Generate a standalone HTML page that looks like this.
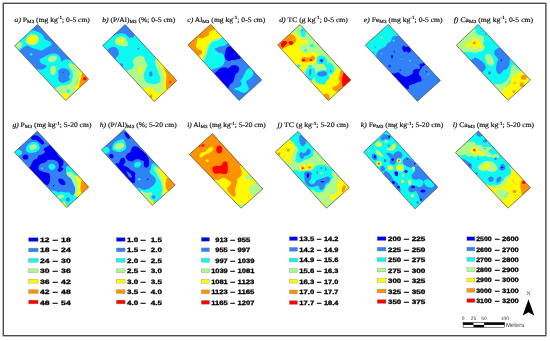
<!DOCTYPE html>
<html><head><meta charset="utf-8"><title>Figure</title>
<style>html,body{margin:0;padding:0;background:#fff}svg{display:block}text{font-family:"Liberation Serif",serif;text-rendering:geometricPrecision}.s{font-family:"Liberation Sans",sans-serif}</style></head><body>
<svg width="550" height="341" viewBox="0 0 550 341">
<defs><filter id="bl" x="-5%" y="-5%" width="110%" height="110%"><feGaussianBlur stdDeviation="0.55"/></filter></defs>
<rect width="550" height="341" fill="#fff"/>
<rect x="3.3" y="3.3" width="542.6" height="332.4" fill="none" stroke="#4c4c4c" stroke-width="1.4"/>
<clipPath id="c0"><polygon points="37.6,24.4 88.6,79.2 65.7,100.6 14.7,45.8"/></clipPath>
<g clip-path="url(#c0)"><g filter="url(#bl)"><polygon points="37.6,24.4 88.6,79.2 65.7,100.6 14.7,45.8" fill="#3381f7" stroke="#3381f7" stroke-width="3"/>
<path fill="#0cf8f0" d="M14.6 45.5C16.2 43.3 22.3 37.7 25.2 35.2C28.1 32.7 29.6 31.2 31.8 30.7C34.0 30.2 36.5 31.5 38.4 32.3C40.3 33.0 41.9 34.0 43.0 35.2C44.1 36.3 43.8 38.1 45.0 39.2C46.2 40.2 49.2 40.9 50.3 41.8C51.4 42.7 52.2 43.7 51.6 44.7C50.9 45.7 47.9 46.8 46.3 47.7C44.7 48.7 43.4 50.1 41.7 50.4C39.9 50.6 37.4 49.5 35.7 49.0C34.1 48.6 33.1 48.3 31.8 47.7C30.5 47.2 29.2 45.9 27.8 45.7C26.5 45.6 25.2 46.3 23.9 47.1C22.6 47.8 21.2 50.1 19.9 50.4C18.6 50.6 16.8 49.2 16.0 48.4C15.1 47.6 13.1 47.7 14.6 45.5Z"/>
<path fill="#aefa8c" d="M25.9 40.5C26.1 39.3 26.6 37.0 27.8 35.9C29.0 34.8 31.5 33.9 33.1 33.9C34.8 33.9 36.7 34.8 37.7 35.9C38.7 37.0 39.4 39.0 39.0 40.5C38.7 41.9 37.2 43.7 35.7 44.4C34.3 45.2 32.0 45.3 30.5 45.1C28.9 44.9 27.3 43.9 26.5 43.1C25.7 42.3 25.6 41.7 25.9 40.5Z"/>
<path fill="#fffa00" d="M27.2 40.5C27.1 39.3 28.2 37.7 29.2 36.8C30.1 35.9 31.8 35.2 33.1 35.2C34.4 35.2 36.1 35.9 36.8 36.8C37.5 37.7 37.7 39.4 37.3 40.5C36.9 41.5 35.7 42.6 34.4 43.1C33.2 43.7 31.0 44.2 29.8 43.8C28.6 43.3 27.3 41.6 27.2 40.5Z"/>
<path fill="#aefa8c" d="M14.0 45.5C14.5 44.4 17.9 42.1 19.3 41.8C20.6 41.5 21.9 42.9 22.3 43.8C22.7 44.6 22.5 46.2 21.9 47.1C21.3 47.9 19.6 48.8 18.6 49.0C17.6 49.3 16.7 49.0 16.0 48.4C15.2 47.8 13.4 46.6 14.0 45.5Z"/>
<ellipse fill="#0cf8f0" cx="31.1" cy="54.3" rx="1.3" ry="1.3"/>
<path fill="#0cf8f0" d="M37.8 71.4C35.6 67.5 40.6 70.0 41.8 69.4C43.0 68.9 44.3 68.7 45.1 68.1C45.9 67.4 46.6 66.0 46.4 65.4C46.2 64.9 44.8 65.2 43.8 64.8C42.8 64.3 41.1 63.7 40.5 62.8C39.8 61.9 39.4 60.4 39.8 59.5C40.2 58.6 41.8 58.3 43.1 57.5C44.4 56.8 46.1 55.6 47.7 54.9C49.4 54.2 51.4 53.7 53.0 53.6C54.7 53.5 56.4 53.6 57.6 54.2C58.8 54.9 59.6 56.3 60.3 57.5C60.9 58.7 60.8 61.2 61.6 61.5C62.3 61.8 63.8 59.8 64.9 59.5C66.0 59.2 66.5 59.3 68.2 59.8C69.8 60.2 71.9 60.2 74.8 62.2C77.6 64.1 83.6 66.3 85.3 71.4C87.1 76.4 90.4 89.0 85.3 92.5C80.3 96.0 62.9 96.0 55.0 92.5C47.1 89.0 40.0 75.2 37.8 71.4Z"/>
<path fill="#aefa8c" d="M47.7 58.9C47.9 58.0 49.3 56.8 50.4 56.2C51.5 55.7 53.2 55.3 54.3 55.6C55.4 55.8 56.7 56.7 57.0 57.5C57.2 58.4 56.4 60.1 55.6 60.8C54.9 61.6 53.4 62.0 52.3 62.2C51.2 62.3 49.8 62.0 49.0 61.5C48.3 60.9 47.5 59.7 47.7 58.9Z"/>
<path fill="#aefa8c" d="M50.4 68.7C50.6 67.5 51.6 66.5 52.3 66.1C53.1 65.7 54.4 65.6 55.0 66.1C55.6 66.7 56.0 68.2 56.0 69.4C56.0 70.6 55.5 72.4 55.0 73.4C54.5 74.4 53.7 75.3 53.0 75.3C52.3 75.3 51.2 74.5 50.8 73.4C50.3 72.3 50.1 70.0 50.4 68.7Z"/>
<ellipse fill="#fffa00" cx="53.3" cy="70.7" rx="0.9" ry="2.4"/>
<path fill="#aefa8c" d="M68.7 62.9C69.5 62.5 73.1 64.0 74.6 65.2C76.1 66.4 77.1 68.5 77.9 70.2C78.7 71.9 79.7 73.5 79.5 75.5C79.3 77.4 77.2 80.1 76.6 82.1C75.9 84.0 74.9 85.8 75.5 87.3C76.2 88.9 82.1 88.9 80.5 91.3C79.0 93.7 70.6 102.2 66.0 101.9C61.4 101.5 54.4 91.7 52.8 89.3C51.3 86.9 55.5 88.3 56.8 87.6C58.1 86.9 59.3 85.8 60.7 85.4C62.2 84.9 63.8 85.3 65.4 85.0C66.9 84.6 68.8 84.5 70.0 83.4C71.2 82.2 72.2 80.1 72.6 78.1C73.0 76.1 72.9 73.3 72.4 71.5C71.8 69.8 69.9 69.0 69.3 67.6C68.7 66.1 67.8 63.3 68.7 62.9Z"/>
<ellipse fill="#0cf8f0" cx="68.3" cy="91.0" rx="1.3" ry="1.7"/>
<path fill="#3381f7" d="M58.1 71.5C58.3 70.4 59.0 69.4 60.1 68.9C61.2 68.3 63.3 68.0 64.7 68.2C66.1 68.4 67.8 69.2 68.7 70.2C69.5 71.2 70.0 73.1 70.0 74.2C70.0 75.2 68.7 75.9 68.7 76.8C68.7 77.7 70.3 78.7 70.0 79.4C69.7 80.2 67.8 80.9 66.7 81.4C65.6 82.0 64.5 82.6 63.4 82.7C62.3 82.8 61.0 82.7 60.1 82.1C59.2 81.4 58.3 79.9 58.1 78.8C57.9 77.7 58.8 76.7 58.8 75.5C58.8 74.3 57.9 72.6 58.1 71.5Z"/>
<ellipse fill="#0000f2" cx="63.0" cy="72.2" rx="0.5" ry="0.5"/>
<path fill="#fffa00" d="M74.6 63.9C74.4 64.5 77.4 68.1 78.2 70.2C78.9 72.2 79.4 74.0 79.2 76.1C79.1 78.2 78.0 80.7 77.2 82.7C76.5 84.8 74.2 86.9 74.7 88.4C75.3 89.9 77.7 93.5 80.5 92.0C83.4 90.5 92.0 83.7 91.7 79.4C91.5 75.1 82.1 68.8 79.2 66.2C76.4 63.6 74.8 63.2 74.6 63.9Z"/>
<path fill="#fffa00" d="M61.4 95.3C61.6 94.4 62.6 93.3 63.4 92.9C64.2 92.5 65.4 92.4 66.3 92.9C67.2 93.4 68.8 94.5 68.7 95.9C68.6 97.3 66.9 100.9 65.8 101.2C64.7 101.5 62.8 98.9 62.1 97.9C61.3 96.9 61.2 96.1 61.4 95.3Z"/>
<path fill="#ff9200" d="M82.5 73.5C83.9 73.8 90.1 77.1 89.8 79.4C89.4 81.8 82.3 87.1 80.5 87.6C78.8 88.2 79.4 84.4 79.5 82.7C79.6 81.0 80.7 79.0 81.2 77.4C81.7 75.9 81.1 73.2 82.5 73.5Z"/>
<ellipse fill="#ff0000" cx="84.8" cy="78.8" rx="1.8" ry="1.8"/></g></g>
<polygon points="37.6,24.4 88.6,79.2 65.7,100.6 14.7,45.8" fill="none" stroke="#4a4a3c" stroke-width="0.7"/>
<clipPath id="c1"><polygon points="125.2,24.6 176.7,80.6 154.2,101.5 102.7,45.5"/></clipPath>
<g clip-path="url(#c1)"><g filter="url(#bl)"><polygon points="125.2,24.6 176.7,80.6 154.2,101.5 102.7,45.5" fill="#0cf8f0" stroke="#0cf8f0" stroke-width="3"/>
<path fill="#3381f7" d="M125.4 22.0C130.0 21.9 135.7 32.3 137.3 34.5C138.8 36.7 135.7 34.7 134.9 35.2C134.1 35.7 133.7 37.2 132.6 37.6C131.6 37.9 129.8 37.7 128.7 37.2C127.6 36.7 127.1 35.2 126.0 34.5C124.9 33.9 123.5 33.3 122.1 33.2C120.7 33.1 119.1 33.6 117.5 34.1C115.8 34.6 113.5 36.1 112.2 36.2C110.9 36.4 107.4 37.6 109.6 35.2C111.8 32.8 120.8 22.1 125.4 22.0Z"/>
<path fill="#aefa8c" d="M114.8 41.8C114.9 40.7 115.8 38.8 116.8 37.8C117.8 36.9 119.4 36.3 120.8 36.2C122.1 36.2 123.6 36.6 124.7 37.6C125.8 38.5 126.8 40.5 127.4 41.8C127.9 43.0 128.5 44.3 128.0 45.1C127.6 45.9 126.0 46.3 124.7 46.4C123.4 46.5 121.5 46.1 120.1 45.7C118.7 45.4 117.0 45.1 116.2 44.4C115.3 43.8 114.7 42.9 114.8 41.8Z"/>
<ellipse fill="#fffa00" cx="120.8" cy="40.9" rx="2.9" ry="2.2"/>
<path fill="#3381f7" d="M106.9 51.7C107.0 50.3 108.9 48.5 110.2 47.7C111.5 47.0 113.5 46.7 114.8 47.1C116.2 47.4 117.5 48.8 118.1 50.0C118.8 51.2 119.1 53.1 118.8 54.3C118.5 55.6 116.9 56.5 116.2 57.4C115.4 58.2 115.7 59.8 114.6 59.6C113.5 59.4 110.8 57.6 109.6 56.3C108.3 55.0 106.8 53.1 106.9 51.7Z"/>
<ellipse fill="#3381f7" cx="121.2" cy="65.3" rx="2.0" ry="2.0"/>
<ellipse fill="#3381f7" cx="138.3" cy="48.8" rx="1.1" ry="0.8"/>
<path fill="#aefa8c" d="M132.6 61.6C132.8 60.4 134.0 58.6 135.2 57.7C136.4 56.7 138.4 55.8 139.8 55.7C141.3 55.6 142.8 56.0 143.8 57.0C144.8 58.0 145.0 60.2 145.8 61.6C146.5 63.0 146.9 65.7 148.4 65.6C149.9 65.5 153.8 62.6 155.0 61.0C156.2 59.3 154.2 55.7 155.7 55.7C157.1 55.7 159.6 56.8 163.6 61.0C167.5 65.1 181.1 73.6 179.4 80.5C177.8 87.4 162.3 103.6 153.7 102.5C145.1 101.5 131.6 79.7 128.0 74.2C124.3 68.6 130.9 70.7 131.9 69.1C132.9 67.6 133.8 66.2 133.9 64.9C134.0 63.7 132.4 62.8 132.6 61.6Z"/>
<path fill="#aefa8c" d="M153.1 64.2C153.6 63.2 155.7 61.4 157.0 60.9C158.4 60.5 160.3 60.6 161.0 61.6C161.7 62.6 162.2 66.1 161.0 67.0C159.8 67.9 155.1 67.4 153.7 67.0C152.4 66.5 152.5 65.2 153.1 64.2Z"/>
<path fill="#0cf8f0" d="M143.8 74.2C144.0 72.5 145.1 71.0 145.8 69.5C146.4 68.1 147.3 67.0 147.7 65.6C148.2 64.1 148.7 62.5 148.4 61.0C148.1 59.4 145.0 57.1 146.2 56.3C147.4 55.6 154.2 55.4 155.7 56.3C157.1 57.3 154.8 60.2 155.0 62.3C155.2 64.4 156.3 66.9 157.0 68.9C157.6 70.9 158.4 72.5 159.0 74.2C159.5 75.8 160.3 77.3 160.3 78.8C160.3 80.2 160.1 81.8 159.0 82.7C157.9 83.6 155.6 84.0 153.7 84.0C151.8 84.0 149.3 83.5 147.7 82.7C146.2 82.0 145.1 80.9 144.4 79.4C143.8 78.0 143.6 75.8 143.8 74.2Z"/>
<ellipse fill="#3381f7" cx="150.8" cy="73.9" rx="1.7" ry="2.6"/>
<path fill="#fffa00" d="M139.6 66.9C140.0 66.2 141.0 66.1 141.4 66.5C141.8 66.9 142.0 68.3 141.9 69.5C141.9 70.8 141.3 73.3 140.9 74.2C140.4 75.0 139.5 75.4 139.2 74.8C138.8 74.3 138.7 72.2 138.8 70.9C138.8 69.5 139.1 67.6 139.6 66.9Z"/>
<path fill="#fffa00" d="M156.3 59.0C153.0 56.4 158.6 63.2 159.6 64.9C160.6 66.7 161.6 68.0 162.3 69.5C162.9 71.1 163.2 72.5 163.6 74.2C163.9 75.8 164.3 77.9 164.2 79.4C164.1 81.0 163.4 82.4 162.9 83.4C162.5 84.4 162.5 84.6 161.6 85.4C160.7 86.1 158.6 86.8 157.6 88.0C156.7 89.2 156.3 92.4 155.7 92.6C155.0 92.8 154.5 90.1 153.7 89.3C152.9 88.6 152.1 88.2 151.0 88.0C149.9 87.8 148.5 87.6 147.1 88.0C145.7 88.4 141.4 87.8 142.5 90.2C143.6 92.7 147.5 104.1 153.7 102.5C159.8 100.9 179.0 87.7 179.4 80.5C179.8 73.2 159.6 61.6 156.3 59.0Z"/>
<path fill="#aefa8c" d="M157.6 88.4C158.2 87.1 160.6 85.4 161.6 85.4C162.6 85.3 163.6 86.8 163.6 88.0C163.5 89.2 162.1 91.5 161.2 92.4C160.3 93.2 158.6 93.9 158.0 93.3C157.4 92.6 157.0 89.7 157.6 88.4Z"/>
<path fill="#ff9200" d="M163.6 68.2C165.8 69.8 177.4 77.0 178.1 80.5C178.7 84.0 169.6 88.6 167.5 89.3C165.5 90.0 166.2 86.4 166.0 84.7C165.7 83.1 166.1 81.2 166.2 79.4C166.3 77.7 166.7 75.6 166.5 74.2C166.3 72.7 165.4 71.8 164.9 70.9C164.4 69.9 161.4 66.6 163.6 68.2Z"/>
<ellipse fill="#ff0000" cx="170.2" cy="82.1" rx="0.9" ry="0.9"/>
<ellipse fill="#ff9200" cx="151.0" cy="96.1" rx="1.3" ry="1.8"/></g></g>
<polygon points="125.2,24.6 176.7,80.6 154.2,101.5 102.7,45.5" fill="none" stroke="#4a4a3c" stroke-width="0.7"/>
<clipPath id="c2"><polygon points="210.7,24.4 261.7,80.1 239.0,100.5 188.0,44.8"/></clipPath>
<g clip-path="url(#c2)"><g filter="url(#bl)"><polygon points="210.7,24.4 261.7,80.1 239.0,100.5 188.0,44.8" fill="#0cf8f0" stroke="#0cf8f0" stroke-width="3"/>
<path fill="#3381f7" d="M229.9 41.8C223.3 35.7 228.1 43.1 227.2 43.8C226.3 44.4 225.8 45.3 224.6 45.7C223.4 46.2 221.2 46.1 220.0 46.4C218.8 46.7 218.2 47.3 217.3 47.7C216.4 48.1 214.6 48.0 214.7 48.8C214.8 49.6 216.7 51.5 218.0 52.3C219.3 53.2 221.5 52.8 222.6 53.7C223.7 54.5 224.2 56.3 224.6 57.6C224.9 58.9 224.9 60.3 224.6 61.6C224.2 62.9 223.6 64.5 222.6 65.5C221.6 66.5 220.0 67.0 218.6 67.5C217.3 68.1 216.1 68.2 214.7 68.8C213.3 69.5 210.6 70.0 210.1 71.5C209.5 72.9 206.3 72.0 211.4 77.4C216.4 82.8 231.2 103.4 240.4 103.8C249.6 104.2 268.6 90.4 266.8 80.0C265.0 69.7 236.5 47.8 229.9 41.8Z"/>
<path fill="#aefa8c" d="M223.3 35.2C224.5 36.0 220.3 38.7 218.6 39.8C217.0 40.9 214.7 41.1 213.4 41.8C212.0 42.4 211.5 42.8 210.7 43.8C210.0 44.8 209.3 46.4 208.7 47.7C208.2 49.0 207.9 50.4 207.4 51.7C207.0 53.0 206.7 54.2 206.1 55.6C205.6 57.1 205.4 60.4 204.1 60.3C202.8 60.1 197.0 59.2 198.2 55.0C199.4 50.8 207.2 38.5 211.4 35.2C215.6 31.9 222.0 34.4 223.3 35.2Z"/>
<path fill="#fffa00" d="M214.7 27.3C216.7 29.6 222.0 34.1 222.6 35.9C223.1 37.6 219.2 37.3 218.0 37.8C216.8 38.4 216.4 38.7 215.3 39.2C214.2 39.6 212.4 39.9 211.4 40.5C210.4 41.0 210.1 41.6 209.4 42.4C208.7 43.3 208.0 44.5 207.4 45.7C206.9 47.0 206.5 48.4 206.1 49.7C205.7 51.0 205.2 52.6 204.8 53.7C204.3 54.8 204.0 55.4 203.5 56.3C203.0 57.2 203.1 59.5 201.9 59.2C200.7 58.9 199.0 56.7 196.2 54.3C193.4 52.0 182.6 50.5 185.0 45.1C187.4 39.7 205.8 25.0 210.7 22.0C215.7 19.0 212.7 25.0 214.7 27.3Z"/>
<path fill="#ff9200" d="M210.7 22.7C215.5 19.9 214.9 27.0 215.1 28.3C215.3 29.7 213.0 30.0 212.0 30.6C211.1 31.2 210.0 31.1 209.4 31.9C208.9 32.7 209.5 34.3 208.7 35.2C208.0 36.1 205.9 36.6 204.8 37.2C203.7 37.7 203.2 38.4 202.2 38.5C201.1 38.6 199.1 37.3 198.2 37.8C197.3 38.4 197.2 40.4 196.9 41.8C196.5 43.2 196.0 45.2 196.2 46.4C196.4 47.6 197.3 48.4 198.2 49.0C199.1 49.7 200.8 49.7 201.5 50.4C202.2 51.0 202.4 52.2 202.2 53.0C201.9 53.8 200.5 54.9 199.8 55.2C199.0 55.6 199.8 56.7 197.5 55.0C195.3 53.3 184.1 50.5 186.3 45.1C188.5 39.7 205.9 25.5 210.7 22.7Z"/>
<ellipse fill="#aefa8c" cx="216.0" cy="53.7" rx="0.7" ry="0.7"/>
<path fill="#0000f2" d="M225.9 49.7C226.3 48.8 226.8 47.5 227.9 47.1C229.0 46.6 230.8 45.7 232.5 46.8C234.1 47.9 236.3 51.9 237.8 53.7C239.2 55.4 241.1 56.4 241.1 57.4C241.1 58.3 239.2 58.9 237.8 59.2C236.3 59.5 233.8 58.7 232.5 58.9C231.2 59.2 230.8 60.7 229.9 60.9C228.9 61.1 227.4 61.0 226.6 60.3C225.7 59.5 224.8 57.6 224.6 56.3C224.4 55.0 225.0 53.4 225.2 52.3C225.5 51.2 225.5 50.6 225.9 49.7Z"/>
<path fill="#0000f2" d="M225.8 55.7C227.7 55.2 236.6 55.1 238.4 55.7C240.1 56.3 237.6 58.7 236.4 59.4C235.2 60.1 232.6 60.0 231.1 59.9C229.6 59.8 228.0 59.3 227.2 58.6C226.3 57.9 224.0 56.2 225.8 55.7Z"/>
<path fill="#0000f2" d="M215.3 72.8C216.4 72.1 217.7 69.8 219.2 68.9C220.8 68.0 223.0 67.7 224.5 67.6C226.1 67.4 227.3 68.5 228.5 68.2C229.7 67.9 230.4 66.0 231.8 65.6C233.1 65.1 235.2 65.1 236.4 65.6C237.6 66.0 238.7 67.2 239.0 68.2C239.4 69.2 238.9 70.5 238.4 71.5C237.8 72.5 236.4 73.1 235.7 74.2C235.1 75.2 234.8 76.8 234.4 78.1C234.0 79.4 233.9 81.0 233.1 82.1C232.3 83.2 230.6 83.7 229.8 84.7C229.0 85.7 228.5 86.9 228.5 88.0C228.5 89.1 232.4 93.7 229.8 91.3C227.2 88.9 215.1 76.6 212.6 73.5C210.2 70.4 214.2 73.6 215.3 72.8Z"/>
<path fill="#0cf8f0" d="M246.3 70.2C247.2 69.2 248.5 68.0 249.6 68.2C250.7 68.4 252.3 70.3 252.9 71.5C253.4 72.7 253.4 74.3 252.9 75.5C252.3 76.7 250.7 77.8 249.6 78.8C248.5 79.8 246.6 80.3 246.3 81.4C245.9 82.5 247.2 84.2 247.6 85.4C248.0 86.6 249.1 87.6 248.9 88.7C248.7 89.8 247.4 91.3 246.3 92.0C245.2 92.6 243.6 92.8 242.3 92.6C241.0 92.4 239.7 91.2 238.4 90.6C237.0 90.1 235.0 89.8 234.4 89.3C233.9 88.9 234.2 88.4 235.1 88.0C235.9 87.6 238.6 87.5 239.7 86.7C240.8 85.9 241.6 84.4 241.7 83.4C241.8 82.4 240.2 81.6 240.3 80.7C240.5 79.9 241.7 79.2 242.3 78.1C243.0 77.0 243.6 75.5 244.3 74.2C245.0 72.8 245.4 71.2 246.3 70.2Z"/>
<ellipse fill="#aefa8c" cx="249.6" cy="73.5" rx="0.5" ry="0.5"/></g></g>
<polygon points="210.7,24.4 261.7,80.1 239.0,100.5 188.0,44.8" fill="none" stroke="#4a4a3c" stroke-width="0.7"/>
<clipPath id="c3"><polygon points="300.1,24.6 350.8,80.1 328.4,100.5 277.7,45.0"/></clipPath>
<g clip-path="url(#c3)"><g filter="url(#bl)"><polygon points="300.1,24.6 350.8,80.1 328.4,100.5 277.7,45.0" fill="#aefa8c" stroke="#aefa8c" stroke-width="3"/>
<path fill="#fffa00" d="M290.8 32.8C294.1 30.9 293.4 33.3 294.8 33.9C296.2 34.5 298.3 35.5 299.4 36.5C300.5 37.6 300.4 39.7 301.4 40.2C302.4 40.8 304.2 39.5 305.3 39.8C306.4 40.1 308.1 41.1 308.0 41.8C307.9 42.4 305.9 43.2 304.7 43.8C303.5 44.3 301.6 44.3 300.7 45.1C299.8 45.9 299.3 47.3 299.4 48.4C299.5 49.5 300.4 50.9 301.4 51.7C302.4 52.5 303.8 52.9 305.3 53.0C306.9 53.1 308.9 52.3 310.6 52.3C312.4 52.3 314.6 52.3 315.9 53.0C317.2 53.7 318.3 55.1 318.5 56.3C318.8 57.5 317.9 59.2 317.2 60.3C316.6 61.4 316.1 62.0 314.6 62.9C313.0 63.8 310.2 64.0 308.0 65.5C305.8 67.1 304.7 72.8 301.4 72.1C298.1 71.5 292.6 66.0 288.2 61.6C283.8 57.1 274.6 50.3 275.0 45.5C275.4 40.7 287.5 34.8 290.8 32.8Z"/>
<ellipse fill="#aefa8c" cx="293.5" cy="55.6" rx="0.7" ry="0.7"/>
<path fill="#0cf8f0" d="M316.8 58.2C317.3 56.9 319.3 55.7 320.7 55.6C322.2 55.4 324.2 56.1 325.3 57.1C326.4 58.1 327.2 60.2 327.3 61.5C327.4 62.8 327.0 64.6 326.0 65.1C325.0 65.5 322.8 64.4 321.4 64.1C320.0 63.8 318.2 64.2 317.4 63.2C316.7 62.2 316.2 59.5 316.8 58.2Z"/>
<path fill="#0cf8f0" d="M325.3 64.8C325.9 63.8 328.6 62.6 330.0 62.8C331.3 63.0 332.6 64.6 333.3 65.8C333.9 67.1 334.2 69.0 333.9 70.3C333.7 71.7 332.7 73.6 331.7 74.0C330.7 74.5 328.9 73.8 328.0 73.0C327.1 72.1 326.8 70.4 326.4 69.0C326.0 67.6 324.7 65.8 325.3 64.8Z"/>
<path fill="#0cf8f0" d="M305.8 71.4C306.4 70.1 307.9 68.0 309.2 67.4C310.6 66.9 312.7 67.3 313.7 68.1C314.8 68.9 315.4 70.6 315.4 72.0C315.5 73.5 315.0 75.5 314.3 76.9C313.5 78.4 312.2 80.3 311.1 80.6C310.0 80.9 308.8 79.6 307.9 78.6C307.0 77.7 306.2 76.3 305.8 75.1C305.5 73.9 305.2 72.7 305.8 71.4Z"/>
<path fill="#0cf8f0" d="M314.8 78.0C314.5 76.3 315.1 74.6 315.8 73.4C316.6 72.2 317.9 71.3 319.4 70.7C320.9 70.2 323.6 69.7 325.1 70.1C326.6 70.4 327.6 71.3 328.2 73.0C328.9 74.6 329.3 78.1 329.0 80.0C328.8 81.8 327.9 83.0 326.7 83.9C325.4 84.8 322.9 85.3 321.4 85.2C319.8 85.1 318.5 84.5 317.4 83.3C316.3 82.0 315.1 79.6 314.8 78.0Z"/>
<path fill="#fffa00" d="M339.6 67.6C336.3 66.1 336.8 70.2 335.6 71.2C334.5 72.3 333.6 72.8 332.7 73.9C331.8 75.0 331.1 76.7 330.1 77.8C329.1 79.0 327.7 79.6 326.8 80.7C325.8 81.8 325.8 83.9 324.4 84.4C323.0 84.9 320.1 84.1 318.5 83.8C316.8 83.4 315.8 82.5 314.5 82.3C313.2 82.2 308.2 79.4 310.6 82.7C312.9 86.1 320.9 103.0 328.4 102.5C335.8 102.1 353.5 85.9 355.4 80.1C357.3 74.3 342.9 69.0 339.6 67.6Z"/>
<path fill="#ff9200" d="M276.3 45.5C276.6 43.7 280.9 40.4 282.9 38.5C284.9 36.6 286.8 35.0 288.2 34.3C289.6 33.5 290.4 33.5 291.5 33.9C292.6 34.2 294.0 35.4 294.8 36.5C295.6 37.6 296.3 39.3 296.1 40.5C295.9 41.7 294.6 42.9 293.5 43.8C292.4 44.6 290.9 45.1 289.5 45.7C288.1 46.4 286.3 47.2 284.9 47.7C283.5 48.3 282.4 49.4 280.9 49.0C279.5 48.7 276.0 47.2 276.3 45.5Z"/>
<path fill="#ff0000" d="M280.9 45.1C280.9 44.1 281.5 42.4 282.3 41.8C283.0 41.1 284.7 40.9 285.6 41.1C286.4 41.3 287.2 42.3 287.1 43.1C287.0 43.9 285.7 45.0 284.9 45.7C284.1 46.5 282.9 47.8 282.3 47.7C281.6 47.6 280.9 46.1 280.9 45.1Z"/>
<path fill="#ff0000" d="M288.9 43.1C288.7 42.4 289.5 41.3 290.2 41.1C290.8 40.9 292.3 41.3 292.8 41.8C293.3 42.2 293.3 43.2 292.9 43.8C292.6 44.3 291.5 45.2 290.8 45.1C290.1 45.0 289.0 43.8 288.9 43.1Z"/>
<path fill="#ff9200" d="M301.4 59.6C301.5 58.8 302.4 57.3 303.4 57.0C304.4 56.6 306.1 57.6 307.3 57.6C308.5 57.6 309.6 57.3 310.6 57.0C311.6 56.6 312.5 55.4 313.3 55.6C314.0 55.9 315.2 57.4 315.2 58.3C315.2 59.2 314.2 60.4 313.3 60.9C312.3 61.5 310.5 61.4 309.3 61.6C308.1 61.8 307.1 62.2 306.0 62.2C304.9 62.2 303.5 62.0 302.7 61.6C301.9 61.1 301.3 60.4 301.4 59.6Z"/>
<ellipse fill="#ff0000" cx="303.5" cy="60.3" rx="1.6" ry="1.3"/>
<ellipse fill="#ff0000" cx="310.9" cy="60.0" rx="1.3" ry="1.1"/>
<path fill="#0cf8f0" d="M300.7 29.9C301.0 29.1 302.0 27.9 302.7 27.9C303.4 27.9 304.6 28.8 305.1 29.9C305.6 31.0 305.7 33.4 305.6 34.5C305.5 35.7 305.0 36.6 304.3 36.8C303.6 37.0 302.0 36.6 301.4 35.9C300.8 35.1 301.0 33.5 300.9 32.6C300.7 31.6 300.4 30.7 300.7 29.9Z"/>
<ellipse fill="#3381f7" cx="302.4" cy="30.2" rx="0.7" ry="0.7"/>
<ellipse fill="#0cf8f0" cx="311.9" cy="45.7" rx="2.0" ry="1.6"/>
<ellipse fill="#0cf8f0" cx="305.6" cy="50.4" rx="1.3" ry="1.1"/>
<ellipse fill="#0cf8f0" cx="321.4" cy="60.3" rx="3.7" ry="3.4"/>
<ellipse fill="#3381f7" cx="321.4" cy="60.5" rx="2.0" ry="2.0"/>
<ellipse fill="#0000f2" cx="321.4" cy="60.7" rx="0.9" ry="0.9"/>
<ellipse fill="#0cf8f0" cx="298.7" cy="65.8" rx="2.0" ry="1.6"/>
<ellipse fill="#0cf8f0" cx="310.0" cy="66.3" rx="1.7" ry="1.3"/>
<ellipse fill="#fffa00" cx="305.6" cy="41.4" rx="1.1" ry="0.7"/>
<ellipse fill="#3381f7" cx="321.6" cy="60.6" rx="1.8" ry="1.8"/>
<ellipse fill="#0000f2" cx="321.6" cy="60.6" rx="1.1" ry="1.1"/>
<path fill="#3381f7" d="M317.2 73.8C317.4 73.1 318.4 72.3 319.7 71.9C320.9 71.5 323.5 71.0 324.7 71.3C325.9 71.5 326.9 72.7 327.1 73.5C327.2 74.2 326.7 75.3 325.7 75.7C324.8 76.2 322.6 76.4 321.4 76.4C320.2 76.4 319.1 76.2 318.4 75.7C317.6 75.3 316.9 74.4 317.2 73.8Z"/>
<path fill="#3381f7" d="M309.9 69.5C310.2 68.9 310.8 68.6 311.0 69.3C311.2 69.9 311.3 72.2 311.1 73.4C310.9 74.5 310.2 76.1 309.9 76.1C309.6 76.1 309.1 74.5 309.1 73.4C309.1 72.3 309.6 70.2 309.9 69.5Z"/>
<ellipse fill="#3381f7" cx="330.9" cy="71.1" rx="0.9" ry="0.9"/>
<ellipse fill="#3381f7" cx="310.3" cy="78.8" rx="0.8" ry="0.8"/>
<ellipse fill="#fffa00" cx="323.0" cy="66.1" rx="1.5" ry="1.5"/>
<path fill="#ff9200" d="M342.0 70.9C339.3 70.1 340.2 74.2 339.6 75.5C339.0 76.8 338.3 77.7 338.3 78.8C338.3 79.9 339.8 81.0 339.6 82.1C339.4 83.2 337.9 84.6 336.9 85.4C335.9 86.1 334.4 86.1 333.6 86.7C332.9 87.2 332.1 88.0 332.3 88.7C332.5 89.3 333.8 90.4 335.0 90.8C336.2 91.1 336.2 92.4 339.6 90.6C343.0 88.9 355.0 83.4 355.4 80.1C355.8 76.8 344.6 71.6 342.0 70.9Z"/>
<path fill="#ff0000" d="M344.2 73.1C345.7 73.9 352.1 77.7 352.1 80.1C352.1 82.5 345.8 86.8 344.2 87.3C342.5 87.9 342.6 84.8 342.2 83.4C341.8 82.0 341.8 80.1 342.0 78.8C342.1 77.4 342.5 76.4 342.9 75.5C343.2 74.5 342.7 72.3 344.2 73.1Z"/>
<path fill="#ff9200" d="M323.5 95.3C323.7 94.5 325.5 93.3 326.4 93.3C327.3 93.3 328.5 94.4 329.0 95.3C329.6 96.1 330.0 97.3 329.8 98.2C329.6 99.0 328.8 100.6 328.0 100.5C327.2 100.4 325.8 98.5 325.1 97.6C324.3 96.8 323.3 96.0 323.5 95.3Z"/></g></g>
<polygon points="300.1,24.6 350.8,80.1 328.4,100.5 277.7,45.0" fill="none" stroke="#4a4a3c" stroke-width="0.7"/>
<clipPath id="c4"><polygon points="388.4,24.4 440.4,80.5 417.3,101.2 365.3,45.1"/></clipPath>
<g clip-path="url(#c4)"><g filter="url(#bl)"><polygon points="388.4,24.4 440.4,80.5 417.3,101.2 365.3,45.1" fill="#3381f7" stroke="#3381f7" stroke-width="3"/>
<path fill="#0cf8f0" d="M388.4 22.7C394.2 20.8 397.7 32.3 398.9 34.5C400.1 36.7 396.6 35.5 395.6 35.9C394.7 36.2 393.7 36.0 393.0 36.5C392.3 37.1 392.1 38.3 391.7 39.2C391.2 40.0 391.0 41.1 390.4 41.8C389.7 42.4 388.5 42.3 387.7 43.1C387.0 43.9 386.7 45.5 385.7 46.4C384.8 47.3 383.0 47.7 381.8 48.4C380.6 49.0 379.4 49.5 378.5 50.4C377.6 51.2 377.1 52.6 376.5 53.7C375.9 54.7 377.0 57.9 374.9 56.6C372.8 55.2 361.7 51.1 364.0 45.5C366.2 39.8 382.6 24.5 388.4 22.7Z"/>
<ellipse fill="#fffa00" cx="381.8" cy="37.6" rx="0.8" ry="1.1"/>
<ellipse fill="#3381f7" cx="375.2" cy="47.1" rx="0.8" ry="0.8"/>
<ellipse fill="#3381f7" cx="373.9" cy="52.6" rx="0.7" ry="0.7"/>
<ellipse fill="#0cf8f0" cx="393.7" cy="40.7" rx="1.1" ry="1.1"/>
<path fill="#0000f2" d="M402.2 47.7C402.2 46.6 402.9 45.6 403.6 45.5C404.2 45.4 405.4 46.9 406.2 47.1C407.0 47.2 407.6 45.9 408.4 46.4C409.3 47.0 411.1 49.3 411.1 50.4C411.1 51.4 409.3 52.5 408.4 52.6C407.6 52.8 406.9 51.4 406.2 51.3C405.4 51.2 404.6 52.7 404.0 52.1C403.3 51.5 402.3 48.8 402.2 47.7Z"/>
<ellipse fill="#0000f2" cx="392.1" cy="56.3" rx="1.1" ry="1.1"/>
<ellipse fill="#0000f2" cx="394.3" cy="51.7" rx="0.7" ry="0.7"/>
<ellipse fill="#0000f2" cx="401.6" cy="58.3" rx="0.7" ry="0.7"/>
<ellipse fill="#0000f2" cx="419.4" cy="57.4" rx="1.1" ry="1.1"/>
<ellipse fill="#0000f2" cx="420.7" cy="64.9" rx="1.3" ry="1.3"/>
<ellipse fill="#0cf8f0" cx="381.8" cy="53.7" rx="0.7" ry="0.7"/>
<ellipse fill="#0cf8f0" cx="410.2" cy="60.7" rx="0.8" ry="0.8"/>
<path fill="#0000f2" d="M424.6 62.3C423.8 62.5 421.5 64.5 420.6 65.6C419.8 66.7 420.1 68.3 419.3 68.9C418.6 69.4 417.0 68.7 416.0 68.9C415.0 69.1 413.9 69.4 413.4 70.2C412.8 71.0 413.4 72.6 412.7 73.5C412.1 74.4 410.6 74.9 409.4 75.5C408.2 76.0 406.8 76.9 405.5 76.8C404.2 76.7 402.7 75.6 401.5 74.8C400.3 74.0 399.3 72.4 398.2 72.2C397.1 72.0 396.0 73.1 394.9 73.5C393.8 73.9 389.6 72.3 391.6 74.8C393.6 77.3 403.8 86.9 406.8 88.7C409.8 90.4 408.3 86.1 409.4 85.4C410.5 84.6 412.0 84.6 413.4 84.0C414.8 83.5 416.6 82.6 418.0 82.1C419.4 81.5 421.1 81.6 421.6 80.7C422.0 79.9 421.1 77.9 420.6 76.8C420.2 75.7 418.8 75.2 418.7 74.2C418.6 73.1 419.4 71.4 420.0 70.2C420.6 69.0 421.5 67.9 422.4 66.9C423.2 65.9 424.9 65.0 425.3 64.3C425.6 63.5 425.4 62.1 424.6 62.3Z"/>
<ellipse fill="#0000f2" cx="389.6" cy="66.2" rx="1.1" ry="1.1"/>
<ellipse fill="#0000f2" cx="392.0" cy="57.7" rx="0.8" ry="0.8"/>
<ellipse fill="#0000f2" cx="400.2" cy="70.2" rx="0.7" ry="0.7"/>
<ellipse fill="#0000f2" cx="426.6" cy="71.8" rx="0.7" ry="0.7"/>
<ellipse fill="#0cf8f0" cx="410.1" cy="60.7" rx="0.9" ry="0.9"/>
<ellipse fill="#0cf8f0" cx="401.5" cy="58.6" rx="0.7" ry="0.7"/>
<ellipse fill="#0cf8f0" cx="428.3" cy="74.2" rx="0.8" ry="0.8"/></g></g>
<polygon points="388.4,24.4 440.4,80.5 417.3,101.2 365.3,45.1" fill="none" stroke="#4a4a3c" stroke-width="0.7"/>
<clipPath id="c5"><polygon points="478.1,24.4 530.4,80.1 508.0,100.3 456.4,45.3"/></clipPath>
<g clip-path="url(#c5)"><g filter="url(#bl)"><polygon points="478.1,24.4 530.4,80.1 508.0,100.3 456.4,45.3" fill="#0cf8f0" stroke="#0cf8f0" stroke-width="3"/>
<path fill="#aefa8c" d="M454.6 45.5C456.5 41.8 469.5 31.3 473.1 29.3C476.7 27.2 475.3 32.2 476.4 33.2C477.5 34.2 478.5 34.6 479.7 35.2C480.9 35.7 482.9 35.6 483.7 36.5C484.4 37.4 484.4 39.3 484.3 40.5C484.2 41.7 482.9 42.7 483.0 43.8C483.1 44.9 485.0 46.0 485.0 47.1C485.0 48.2 483.9 49.6 483.0 50.4C482.1 51.1 480.9 51.2 479.7 51.7C478.5 52.1 477.1 52.9 475.7 53.0C474.4 53.1 473.1 52.5 471.8 52.3C470.5 52.2 469.0 52.5 467.8 52.3C466.6 52.2 465.5 51.9 464.5 51.7C463.5 51.5 463.5 52.3 461.9 51.3C460.2 50.3 452.8 49.2 454.6 45.5Z"/>
<path fill="#fffa00" d="M464.9 44.2C465.1 43.5 466.2 42.7 467.2 42.4C468.1 42.2 469.7 43.2 470.5 42.8C471.3 42.5 471.4 41.2 472.1 40.5C472.7 39.7 473.2 38.8 474.2 38.5C475.1 38.2 476.8 38.3 477.7 38.9C478.6 39.4 479.1 40.8 479.7 41.8C480.3 42.8 480.7 43.9 481.3 44.7C481.9 45.5 483.1 46.0 483.1 46.5C483.1 47.1 482.1 48.0 481.3 48.1C480.5 48.2 479.1 46.8 478.4 47.1C477.6 47.3 477.5 49.2 476.8 49.4C476.1 49.7 474.9 49.4 474.2 48.8C473.4 48.2 473.3 46.0 472.4 45.7C471.6 45.5 470.2 47.2 469.2 47.3C468.1 47.4 467.0 46.9 466.2 46.4C465.5 45.9 464.8 44.8 464.9 44.2Z"/>
<ellipse fill="#ff9200" cx="474.4" cy="42.8" rx="1.6" ry="1.6"/>
<path fill="#3381f7" d="M467.2 58.9C466.1 57.6 468.2 60.0 469.2 60.0C470.1 60.0 471.8 59.0 473.1 58.9C474.4 58.9 475.9 59.0 477.1 59.6C478.3 60.1 479.6 61.2 480.4 62.2C481.1 63.2 481.5 64.3 481.7 65.5C481.8 66.7 482.3 69.1 481.3 69.5C480.3 69.9 478.1 69.9 475.7 68.2C473.4 66.4 468.3 60.3 467.2 58.9Z"/>
<path fill="#aefa8c" d="M485.0 56.3C485.2 55.0 486.6 53.9 487.6 53.7C488.6 53.4 490.0 54.1 490.9 55.0C491.8 55.9 492.3 57.6 492.9 58.9C493.4 60.3 494.3 61.8 494.2 62.9C494.1 64.0 493.2 65.2 492.2 65.5C491.2 65.9 489.3 65.5 488.3 64.9C487.3 64.2 486.9 63.0 486.3 61.6C485.8 60.1 484.8 57.6 485.0 56.3Z"/>
<ellipse fill="#3381f7" cx="485.6" cy="33.9" rx="0.7" ry="0.7"/>
<ellipse fill="#3381f7" cx="481.7" cy="31.2" rx="0.5" ry="0.5"/>
<path fill="#3381f7" d="M474.4 57.7C475.4 56.9 478.8 59.4 480.3 60.3C481.8 61.2 482.7 61.7 483.6 62.9C484.5 64.1 486.0 66.2 486.0 67.6C486.0 68.9 484.7 70.1 483.6 70.9C482.5 71.6 481.2 73.2 479.6 72.2C478.1 71.2 475.2 67.3 474.4 64.9C473.5 62.5 473.4 58.4 474.4 57.7Z"/>
<path fill="#3381f7" d="M494.2 51.7C494.5 50.7 495.4 49.7 496.8 49.1C498.2 48.5 500.3 46.9 502.7 48.0C505.1 49.1 510.1 54.2 511.3 55.7C512.5 57.2 510.3 55.5 510.0 57.0C509.7 58.5 509.9 62.9 509.3 64.9C508.8 66.9 507.7 68.0 506.7 68.9C505.7 69.8 504.5 69.3 503.4 70.2C502.3 71.1 501.1 73.7 500.1 74.2C499.1 74.6 498.1 73.7 497.4 72.8C496.8 72.0 496.2 70.4 496.1 68.9C496.0 67.3 496.5 65.1 496.8 63.6C497.1 62.1 498.1 60.7 498.1 59.6C498.1 58.5 497.3 57.8 496.8 57.0C496.2 56.2 495.2 55.9 494.8 55.0C494.4 54.1 493.8 52.7 494.2 51.7Z"/>
<ellipse fill="#0000f2" cx="501.4" cy="60.3" rx="0.8" ry="0.8"/>
<ellipse fill="#3381f7" cx="489.5" cy="72.8" rx="1.6" ry="1.6"/>
<path fill="#aefa8c" d="M512.1 65.2C513.0 63.8 514.1 65.2 515.3 66.0C516.4 66.7 518.3 68.4 519.2 69.5C520.1 70.6 521.9 71.0 520.5 72.6C519.2 74.1 514.6 75.2 511.3 78.8C508.0 82.3 503.8 92.7 500.7 93.9C497.7 95.1 493.6 87.7 492.8 86.0C492.1 84.4 494.8 84.4 496.1 84.0C497.4 83.7 499.3 84.4 500.7 84.0C502.2 83.7 503.7 82.9 505.0 82.1C506.2 81.2 507.3 80.1 508.1 78.8C509.0 77.4 509.3 76.4 510.0 74.2C510.6 71.9 511.2 66.5 512.1 65.2Z"/>
<path fill="#fffa00" d="M522.5 70.9C520.0 69.9 518.8 73.4 517.2 74.2C515.7 74.9 514.3 74.7 513.3 75.5C512.3 76.2 511.9 77.6 511.3 78.8C510.8 80.0 510.6 81.6 510.0 82.7C509.3 83.8 508.2 84.4 507.3 85.4C506.5 86.4 505.6 87.6 504.7 88.7C503.8 89.8 502.9 91.1 502.1 92.0C501.2 92.8 498.4 92.2 499.4 93.9C500.4 95.7 502.5 104.8 508.0 102.5C513.5 100.2 530.0 85.4 532.4 80.1C534.8 74.8 525.0 71.8 522.5 70.9Z"/>
<ellipse fill="#ff9200" cx="523.8" cy="77.4" rx="2.9" ry="2.4"/>
<ellipse fill="#ff9200" cx="521.9" cy="84.7" rx="2.0" ry="2.4"/>
<ellipse fill="#ff9200" cx="513.9" cy="91.6" rx="1.3" ry="1.3"/>
<ellipse fill="#ff9200" cx="514.6" cy="83.1" rx="1.1" ry="0.8"/></g></g>
<polygon points="478.1,24.4 530.4,80.1 508.0,100.3 456.4,45.3" fill="none" stroke="#4a4a3c" stroke-width="0.7"/>
<clipPath id="c6"><polygon points="37.3,131.2 88.7,187.1 66.7,207.5 14.4,152.3"/></clipPath>
<g clip-path="url(#c6)"><g filter="url(#bl)"><polygon points="37.3,131.2 88.7,187.1 66.7,207.5 14.4,152.3" fill="#3381f7" stroke="#3381f7" stroke-width="3"/>
<path fill="#0000f2" d="M31.1 137.2C31.5 136.4 33.2 135.5 34.4 135.3C35.6 135.2 37.1 135.6 38.4 136.3C39.7 137.0 41.1 138.4 42.1 139.6C43.1 140.7 44.3 142.4 44.3 143.2C44.3 144.1 43.0 144.8 42.1 144.6C41.2 144.3 40.1 142.7 39.0 141.9C38.0 141.1 36.8 140.2 35.7 139.8C34.6 139.5 33.2 140.3 32.4 139.8C31.7 139.4 30.8 137.9 31.1 137.2Z"/>
<ellipse fill="#0000f2" cx="25.5" cy="157.0" rx="2.9" ry="2.6"/>
<path fill="#0000f2" d="M51.6 144.8C50.0 144.2 48.3 146.1 47.0 146.8C45.6 147.5 44.0 148.2 43.7 149.1C43.3 149.9 45.3 151.1 45.0 152.1C44.7 153.0 42.8 154.1 41.7 154.7C40.6 155.3 39.2 155.0 38.4 155.6C37.6 156.3 37.8 158.0 37.1 158.7C36.3 159.4 34.6 159.2 33.8 160.0C32.9 160.8 32.4 162.1 31.8 163.3C31.1 164.5 30.7 166.4 29.8 167.3C28.9 168.1 23.8 165.3 26.5 168.6C29.3 171.9 42.1 183.3 46.3 187.0C50.5 190.8 48.5 191.4 51.6 191.0C54.7 190.6 61.0 187.5 64.8 184.4C68.5 181.3 72.8 175.2 74.0 172.5C75.2 169.9 73.6 169.2 72.0 168.6C70.5 167.9 66.5 168.8 64.8 168.6C63.0 168.4 61.7 168.0 61.5 167.3C61.3 166.5 63.2 165.2 63.5 164.0C63.7 162.8 63.7 161.4 62.8 160.0C61.9 158.6 59.3 156.9 58.2 155.4C57.1 153.8 57.3 152.5 56.2 150.8C55.1 149.0 53.1 145.5 51.6 144.8Z"/>
<path fill="#3381f7" d="M50.2 177.2C50.1 175.7 49.8 174.3 48.9 173.2C48.0 172.1 46.0 171.2 44.9 170.6C43.8 170.0 43.2 170.0 42.3 169.5C41.4 169.1 39.9 168.9 39.6 168.0C39.4 167.0 39.6 164.9 41.0 164.0C42.3 163.1 45.1 162.8 47.6 162.7C50.0 162.6 53.9 162.2 55.5 163.3C57.0 164.4 56.1 167.8 56.8 169.3C57.4 170.7 58.4 171.8 59.4 171.9C60.4 172.0 62.0 170.9 62.7 169.9C63.5 168.9 63.8 167.2 64.0 166.0C64.3 164.8 62.8 163.2 64.0 162.7C65.3 162.1 66.6 158.6 71.3 162.7C76.0 166.7 93.2 179.4 92.4 187.1C91.6 194.8 74.6 209.1 66.7 208.9C58.8 208.6 48.1 189.7 44.9 185.8C41.7 181.8 46.8 185.7 47.6 185.1C48.3 184.6 49.1 183.8 49.5 182.5C50.0 181.2 50.3 178.7 50.2 177.2Z"/>
<path fill="#3381f7" d="M38.4 167.3C38.6 166.3 39.3 164.7 40.4 164.0C41.5 163.2 43.7 163.3 45.0 162.6C46.3 162.0 46.7 160.4 48.3 160.0C49.8 159.6 52.6 159.6 54.2 160.0C55.9 160.4 57.4 161.4 58.2 162.6C58.9 163.9 59.1 165.9 58.8 167.3C58.6 168.6 57.8 169.6 56.9 170.6C55.9 171.5 54.7 172.9 52.9 173.2C51.1 173.5 48.2 172.9 46.3 172.5C44.4 172.2 42.9 171.7 41.7 171.2C40.5 170.8 39.6 170.6 39.0 169.9C38.5 169.2 38.2 168.2 38.4 167.3Z"/>
<path fill="#0cf8f0" d="M48.3 166.6C48.2 165.6 49.4 164.4 50.3 164.0C51.1 163.5 52.7 163.5 53.6 164.0C54.4 164.4 55.4 165.7 55.5 166.6C55.6 167.5 55.0 168.7 54.2 169.2C53.4 169.8 51.9 170.3 50.9 169.9C49.9 169.5 48.4 167.6 48.3 166.6Z"/>
<ellipse fill="#0cf8f0" cx="42.1" cy="168.3" rx="1.1" ry="0.8"/>
<path fill="#0cf8f0" d="M25.9 148.8C26.1 147.7 26.8 145.9 27.8 144.8C28.8 143.7 30.4 142.6 31.8 142.2C33.2 141.8 35.2 141.8 36.4 142.2C37.6 142.6 38.5 143.7 39.0 144.8C39.6 145.9 40.0 147.7 39.7 148.8C39.4 149.9 38.2 150.8 37.1 151.4C36.0 152.1 34.4 152.5 33.1 152.7C31.8 153.0 30.2 153.0 29.2 152.7C28.1 152.5 27.1 152.1 26.5 151.4C26.0 150.8 25.6 149.9 25.9 148.8Z"/>
<path fill="#aefa8c" d="M29.2 147.5C29.3 146.6 30.7 145.3 31.8 144.8C32.9 144.4 34.9 144.4 35.7 144.8C36.6 145.3 37.3 146.7 37.1 147.5C36.8 148.2 35.4 149.0 34.4 149.4C33.4 149.9 32.0 150.4 31.1 150.1C30.2 149.8 29.0 148.3 29.2 147.5Z"/>
<path fill="#0cf8f0" d="M13.3 152.7C13.6 151.8 16.6 150.2 17.9 149.8C19.3 149.5 20.6 150.2 21.2 150.8C21.9 151.4 22.2 152.6 21.9 153.4C21.6 154.2 20.2 155.3 19.3 155.6C18.3 156.0 16.9 155.9 16.0 155.4C15.0 154.9 13.0 153.7 13.3 152.7Z"/>
<path fill="#0000f2" d="M58.1 179.8C58.2 179.0 59.8 178.4 60.7 178.5C61.7 178.6 63.3 179.6 64.0 180.5C64.8 181.4 65.5 183.0 65.4 183.8C65.3 184.6 64.3 185.1 63.4 185.1C62.5 185.1 61.0 184.7 60.1 183.8C59.2 182.9 58.0 180.7 58.1 179.8Z"/>
<ellipse fill="#0000f2" cx="53.5" cy="185.8" rx="0.8" ry="0.8"/>
<path fill="#0cf8f0" d="M69.3 166.6C64.9 164.1 66.2 170.4 66.0 171.9C65.8 173.5 67.1 174.8 68.0 175.9C68.9 177.0 70.5 177.4 71.3 178.5C72.1 179.6 72.1 181.2 72.6 182.5C73.2 183.8 74.2 185.1 74.6 186.4C75.0 187.7 75.4 189.1 75.3 190.4C75.1 191.7 74.6 193.6 73.9 194.3C73.3 195.1 72.1 195.3 71.3 195.0C70.5 194.7 70.3 192.8 69.3 192.4C68.3 191.9 66.7 192.5 65.4 192.4C64.0 192.3 62.6 191.7 61.4 191.7C60.2 191.7 59.1 192.5 58.1 192.4C57.1 192.3 56.5 191.4 55.5 191.0C54.5 190.7 53.4 190.4 52.2 190.4C51.0 190.4 45.8 187.9 48.2 191.0C50.6 194.2 59.3 210.2 66.7 209.5C74.0 208.9 92.0 194.2 92.4 187.1C92.8 179.9 73.7 169.2 69.3 166.6Z"/>
<ellipse fill="#3381f7" cx="68.0" cy="199.4" rx="2.0" ry="2.0"/>
<path fill="#aefa8c" d="M66.7 173.2C67.2 172.6 69.9 171.6 71.3 171.9C72.7 172.2 73.7 174.3 75.3 175.2C76.8 176.1 78.1 175.2 80.5 177.2C83.0 179.2 89.8 184.0 89.8 187.1C89.8 190.2 83.1 194.2 80.5 195.7C78.0 197.1 75.4 196.8 74.6 195.9C73.8 195.0 75.5 192.1 75.5 190.4C75.5 188.7 75.1 187.3 74.6 185.8C74.1 184.2 73.3 182.5 72.6 181.2C72.0 179.8 71.4 178.7 70.6 177.9C69.9 177.0 68.7 176.6 68.0 175.9C67.3 175.1 66.1 173.9 66.7 173.2Z"/>
<path fill="#fffa00" d="M76.6 176.5C76.2 177.7 77.8 181.7 78.2 183.8C78.5 185.9 78.8 187.4 78.6 189.1C78.3 190.8 76.5 192.8 76.6 194.1C76.7 195.4 76.8 198.1 79.2 197.0C81.6 195.8 90.9 190.5 91.1 187.1C91.3 183.7 83.0 178.3 80.5 176.5C78.1 174.8 77.0 175.3 76.6 176.5Z"/>
<path fill="#ff9200" d="M81.9 181.2C83.4 181.5 89.7 185.1 89.8 187.1C89.9 189.1 84.1 192.6 82.5 193.0C81.0 193.5 80.8 191.0 80.5 189.7C80.2 188.4 80.6 186.5 80.8 185.1C81.0 183.7 80.4 180.8 81.9 181.2Z"/>
<path fill="#aefa8c" d="M56.8 197.0C57.0 196.3 58.3 195.3 59.4 195.0C60.5 194.7 62.6 194.7 63.4 195.0C64.2 195.3 64.5 196.4 64.2 197.0C63.8 197.6 62.4 198.2 61.4 198.6C60.4 198.9 58.9 199.2 58.1 199.0C57.3 198.7 56.6 197.6 56.8 197.0Z"/>
<path fill="#fffa00" d="M61.4 202.9C61.6 202.3 63.3 201.4 64.0 201.6C64.8 201.8 65.5 203.1 66.0 204.2C66.5 205.3 67.6 208.0 67.1 208.2C66.6 208.3 64.1 206.0 63.1 205.2C62.2 204.3 61.3 203.5 61.4 202.9Z"/></g></g>
<polygon points="37.3,131.2 88.7,187.1 66.7,207.5 14.4,152.3" fill="none" stroke="#4a4a3c" stroke-width="0.7"/>
<clipPath id="c7"><polygon points="124.2,129.6 175.2,185.1 152.4,205.3 101.4,149.8"/></clipPath>
<g clip-path="url(#c7)"><g filter="url(#bl)"><polygon points="124.2,129.6 175.2,185.1 152.4,205.3 101.4,149.8" fill="#3381f7" stroke="#3381f7" stroke-width="3"/>
<path fill="#0000f2" d="M124.1 132.3C124.3 131.7 126.4 132.7 127.4 133.6C128.4 134.5 129.8 136.7 130.0 137.6C130.2 138.5 129.3 139.0 128.7 138.9C128.0 138.8 126.8 138.0 126.0 136.9C125.3 135.8 123.8 132.8 124.1 132.3Z"/>
<path fill="#0000f2" d="M132.0 147.5C132.8 146.5 134.2 146.2 135.3 146.2C136.4 146.2 137.6 146.8 138.6 147.5C139.6 148.1 140.1 149.1 141.2 150.1C142.3 151.1 144.0 152.1 145.2 153.4C146.4 154.7 147.8 156.6 148.5 158.0C149.1 159.5 149.1 160.6 149.1 162.0C149.1 163.4 149.1 165.7 148.5 166.6C147.8 167.5 146.0 167.9 145.2 167.5C144.4 167.1 143.7 165.4 143.6 164.4C143.5 163.3 145.0 162.1 144.6 161.5C144.3 160.8 142.5 160.8 141.5 160.4C140.5 160.0 139.6 159.1 138.6 158.9C137.5 158.8 136.2 159.2 135.1 159.6C134.1 160.0 133.6 161.3 132.5 161.5C131.4 161.6 129.8 161.3 128.7 160.7C127.6 160.0 126.0 158.5 125.8 157.4C125.5 156.3 126.3 154.9 127.1 154.1C127.9 153.2 129.6 153.2 130.4 152.1C131.2 151.0 131.2 148.5 132.0 147.5Z"/>
<path fill="#0000f2" d="M118.8 163.3C119.6 162.3 119.9 159.6 120.8 158.7C121.6 157.8 123.3 157.5 124.1 158.0C124.8 158.6 125.5 160.8 125.4 162.0C125.3 163.2 123.5 164.2 123.4 165.3C123.3 166.4 123.8 167.7 124.7 168.6C125.6 169.5 127.3 170.1 128.7 170.6C130.1 171.0 132.2 170.6 133.3 171.2C134.4 171.9 135.7 172.8 135.3 174.5C134.8 176.3 133.9 183.4 130.7 181.8C127.5 180.1 118.1 167.7 116.2 164.6C114.2 161.5 118.0 164.3 118.8 163.3Z"/>
<path fill="#0000f2" d="M109.3 154.9C109.7 154.3 111.4 153.5 112.2 153.8C112.9 154.1 113.8 155.7 113.8 156.4C113.7 157.2 112.5 158.2 111.8 158.3C111.1 158.4 110.0 157.8 109.6 157.2C109.1 156.7 108.9 155.4 109.3 154.9Z"/>
<path fill="#0cf8f0" d="M112.2 147.5C112.4 146.3 113.1 144.1 114.2 142.9C115.3 141.6 117.2 140.8 118.8 140.2C120.3 139.7 122.3 139.0 123.4 139.6C124.5 140.1 124.9 142.1 125.4 143.5C125.8 144.9 126.4 146.9 126.0 148.1C125.7 149.3 124.4 150.1 123.4 150.8C122.4 151.4 121.3 152.0 120.1 152.1C118.9 152.2 117.4 151.8 116.2 151.4C114.9 151.1 113.5 150.8 112.9 150.1C112.2 149.4 112.0 148.7 112.2 147.5Z"/>
<path fill="#aefa8c" d="M114.2 147.5C114.2 146.6 115.1 145.1 116.2 144.2C117.2 143.3 119.4 142.2 120.8 142.2C122.1 142.2 123.6 143.3 124.1 144.2C124.5 145.1 124.1 146.6 123.4 147.5C122.7 148.3 121.3 149.1 120.1 149.4C118.9 149.8 117.1 149.8 116.2 149.4C115.2 149.1 114.2 148.3 114.2 147.5Z"/>
<ellipse fill="#fffa00" cx="121.4" cy="144.6" rx="1.3" ry="1.1"/>
<path fill="#0cf8f0" d="M99.7 150.8C100.0 149.7 103.4 147.6 104.9 147.2C106.5 146.8 108.1 147.4 108.9 148.1C109.7 148.8 109.9 150.5 109.6 151.4C109.2 152.4 108.0 153.3 106.9 153.7C105.8 154.0 104.2 153.9 103.0 153.4C101.7 152.9 99.3 151.8 99.7 150.8Z"/>
<path fill="#0cf8f0" d="M134.0 164.6C134.2 163.7 135.6 162.4 136.6 162.0C137.6 161.5 139.2 161.5 139.9 162.0C140.6 162.4 141.2 163.7 141.0 164.6C140.7 165.5 139.5 166.8 138.6 167.3C137.6 167.7 136.0 167.7 135.3 167.3C134.5 166.8 133.7 165.5 134.0 164.6Z"/>
<path fill="#0000f2" d="M122.7 166.0C123.7 165.0 127.1 166.9 128.6 167.9C130.2 168.9 130.9 170.7 131.9 171.9C132.9 173.1 134.0 174.0 134.6 175.2C135.1 176.4 135.4 177.8 135.2 179.2C135.0 180.5 135.3 184.0 133.2 183.1C131.1 182.2 124.4 176.7 122.7 173.9C120.9 171.0 121.7 166.9 122.7 166.0Z"/>
<path fill="#3381f7" d="M126.6 171.2C127.0 170.9 129.1 172.3 129.9 173.2C130.8 174.1 131.8 175.7 131.9 176.5C132.0 177.3 131.3 178.1 130.6 177.8C129.9 177.6 128.6 176.3 128.0 175.2C127.3 174.1 126.3 171.6 126.6 171.2Z"/>
<path fill="#0000f2" d="M143.8 161.3C143.2 162.1 144.6 165.1 145.1 166.0C145.7 166.8 146.5 166.9 147.1 166.6C147.6 166.3 148.1 164.9 148.4 164.0C148.7 163.1 149.4 161.8 148.7 161.3C147.9 160.9 144.4 160.6 143.8 161.3Z"/>
<ellipse fill="#0cf8f0" cx="139.2" cy="179.2" rx="1.3" ry="1.3"/>
<path fill="#0cf8f0" d="M155.0 164.0C150.3 161.2 151.9 167.2 151.0 168.6C150.2 170.0 149.5 171.5 149.7 172.6C149.9 173.7 151.5 174.3 152.4 175.2C153.2 176.1 154.5 176.7 155.0 177.8C155.6 178.9 155.9 180.6 155.7 181.8C155.4 183.0 154.6 184.1 153.7 185.1C152.8 186.1 151.4 187.1 150.4 187.7C149.4 188.4 148.8 188.7 147.7 189.0C146.6 189.4 145.0 189.8 143.8 189.7C142.6 189.6 141.5 188.7 140.5 188.4C139.5 188.1 138.7 187.6 137.9 187.7C137.0 187.8 132.8 185.7 135.2 189.0C137.6 192.3 145.0 208.2 152.4 207.5C159.7 206.9 179.0 192.3 179.4 185.1C179.8 177.8 159.7 166.7 155.0 164.0Z"/>
<ellipse fill="#3381f7" cx="153.7" cy="197.0" rx="1.7" ry="1.7"/>
<ellipse fill="#0000f2" cx="147.7" cy="179.2" rx="0.7" ry="0.7"/>
<path fill="#aefa8c" d="M153.7 169.3C153.9 168.3 153.4 164.9 157.6 167.5C161.9 170.2 178.4 180.3 179.4 185.1C180.4 189.9 166.7 194.8 163.6 196.3C160.5 197.8 161.2 195.3 160.9 194.3C160.7 193.3 162.1 191.8 162.3 190.4C162.4 188.9 161.9 187.3 161.6 185.7C161.3 184.2 160.8 182.6 160.3 181.1C159.7 179.7 159.0 178.5 158.3 177.2C157.6 175.9 157.1 174.5 156.3 173.2C155.6 171.9 153.5 170.2 153.7 169.3Z"/>
<path fill="#fffa00" d="M158.6 169.9C158.2 171.0 159.7 173.8 160.3 175.2C160.9 176.6 161.7 177.2 162.3 178.5C162.8 179.8 163.2 181.5 163.6 183.1C163.9 184.8 164.1 186.6 164.2 188.4C164.4 190.1 162.1 194.2 164.6 193.7C167.2 193.1 179.8 189.3 179.4 185.1C179.0 180.9 165.7 171.1 162.3 168.6C158.8 166.1 158.9 168.8 158.6 169.9Z"/>
<path fill="#ff9200" d="M166.2 179.8C166.8 178.5 167.1 177.0 168.9 177.8C170.6 178.7 176.7 182.9 176.8 185.1C176.9 187.3 171.2 190.3 169.5 191.0C167.9 191.8 167.5 190.6 166.9 189.7C166.2 188.8 165.7 187.4 165.6 185.7C165.4 184.1 165.7 181.1 166.2 179.8Z"/>
<path fill="#aefa8c" d="M139.8 192.1C139.1 190.3 142.5 191.5 143.8 191.7C145.1 191.8 146.6 193.0 147.7 193.0C148.8 193.0 149.6 191.6 150.4 191.7C151.2 191.8 152.4 192.9 152.4 193.7C152.4 194.4 150.7 195.2 150.4 196.3C150.1 197.4 150.7 199.3 150.4 200.3C150.1 201.2 150.2 203.6 148.4 202.2C146.6 200.9 140.6 193.8 139.8 192.1Z"/>
<path fill="#fffa00" d="M148.4 201.6C148.6 200.9 150.2 199.6 151.0 199.6C151.9 199.6 153.3 200.5 153.7 201.6C154.1 202.7 153.9 205.8 153.3 206.2C152.7 206.5 150.9 204.5 150.1 203.7C149.3 202.9 148.3 202.3 148.4 201.6Z"/></g></g>
<polygon points="124.2,129.6 175.2,185.1 152.4,205.3 101.4,149.8" fill="none" stroke="#4a4a3c" stroke-width="0.7"/>
<clipPath id="c8"><polygon points="212.4,133.6 262.8,189.0 241.0,208.2 189.4,154.4"/></clipPath>
<g clip-path="url(#c8)"><g filter="url(#bl)"><polygon points="212.4,133.6 262.8,189.0 241.0,208.2 189.4,154.4" fill="#ff9200" stroke="#ff9200" stroke-width="3"/>
<ellipse fill="#ff0000" cx="219.3" cy="149.4" rx="3.0" ry="4.0"/>
<ellipse fill="#ff0000" cx="202.8" cy="145.5" rx="1.6" ry="1.3"/>
<ellipse fill="#ff0000" cx="199.8" cy="146.2" rx="0.8" ry="0.8"/>
<path fill="#fffa00" d="M199.5 154.7C199.7 154.0 200.5 153.3 201.5 152.7C202.5 152.2 204.3 152.1 205.4 151.4C206.5 150.8 207.1 149.6 208.1 148.8C209.1 148.0 210.5 146.8 211.4 146.8C212.3 146.8 213.4 148.0 213.4 148.8C213.4 149.6 212.3 150.7 211.4 151.4C210.5 152.2 209.2 152.9 208.1 153.4C207.0 154.0 205.7 154.2 204.8 154.7C203.9 155.3 203.6 156.3 202.8 156.7C202.0 157.1 200.7 157.7 200.2 157.4C199.6 157.0 199.3 155.5 199.5 154.7Z"/>
<ellipse fill="#fffa00" cx="207.2" cy="160.7" rx="1.6" ry="1.3"/>
<ellipse fill="#fffa00" cx="232.5" cy="164.6" rx="0.5" ry="0.5"/>
<path fill="#fffa00" d="M242.3 166.0C238.1 163.2 241.9 170.3 241.7 171.9C241.4 173.6 241.7 174.8 241.0 175.9C240.3 177.0 238.4 177.4 237.7 178.5C237.0 179.6 237.4 181.2 237.0 182.5C236.7 183.8 236.1 185.1 235.7 186.4C235.4 187.7 235.1 189.0 235.1 190.4C235.1 191.8 235.9 193.9 235.7 195.0C235.5 196.1 234.5 197.0 233.7 197.0C233.0 197.0 232.0 195.9 231.1 195.0C230.2 194.1 229.1 192.8 228.5 191.7C227.8 190.6 226.9 189.4 227.2 188.4C227.4 187.4 229.1 186.8 229.8 185.8C230.4 184.8 231.3 183.3 231.1 182.5C230.9 181.6 229.3 181.2 228.5 180.5C227.6 179.8 226.8 179.0 225.8 178.5C224.8 178.1 223.6 177.6 222.5 177.9C221.4 178.1 220.3 179.1 219.2 179.8C218.1 180.6 212.3 177.4 215.9 182.5C219.6 187.5 232.5 209.2 241.0 210.2C249.5 211.2 266.5 195.8 266.7 188.4C266.9 181.0 246.5 168.7 242.3 166.0Z"/>
<path fill="#ff0000" d="M212.6 168.0C213.0 167.0 214.1 166.3 215.3 166.0C216.5 165.6 218.7 166.3 219.9 166.0C221.1 165.6 222.0 164.7 222.5 164.0C223.1 163.3 222.5 162.4 223.2 162.0C223.9 161.6 225.7 161.1 226.5 161.6C227.3 162.2 227.6 164.0 227.8 165.3C228.0 166.6 227.9 168.0 227.8 169.3C227.7 170.6 227.9 172.5 227.2 173.2C226.4 174.0 224.5 173.9 223.2 173.9C221.9 173.9 220.4 173.2 219.2 173.2C218.0 173.2 216.9 174.1 215.9 173.9C214.9 173.7 213.8 172.9 213.3 171.9C212.7 170.9 212.3 168.9 212.6 168.0Z"/>
<path fill="#aefa8c" d="M245.0 177.2C245.2 176.4 246.9 175.1 248.3 175.2C249.6 175.3 252.5 177.1 252.9 177.9C253.2 178.6 251.2 179.5 250.2 179.8C249.2 180.2 247.8 180.3 246.9 179.8C246.1 179.4 244.7 178.0 245.0 177.2Z"/>
<path fill="#aefa8c" d="M249.6 187.1C250.0 185.9 251.2 185.2 252.2 184.4C253.2 183.7 254.5 182.7 255.5 182.5C256.5 182.2 256.5 182.1 258.2 183.1C259.8 184.1 266.0 186.1 265.4 188.4C264.9 190.7 257.1 195.9 254.9 197.0C252.7 198.1 253.1 195.9 252.2 195.0C251.3 194.1 250.0 193.0 249.6 191.7C249.1 190.4 249.1 188.3 249.6 187.1Z"/>
<path fill="#aefa8c" d="M238.4 204.9C238.5 204.0 240.8 204.0 241.7 204.2C242.5 204.5 243.8 205.3 243.6 206.2C243.5 207.1 241.9 209.7 241.0 209.5C240.1 209.3 238.3 205.8 238.4 204.9Z"/>
<ellipse fill="#ff9200" cx="248.5" cy="196.3" rx="0.5" ry="0.5"/></g></g>
<polygon points="212.4,133.6 262.8,189.0 241.0,208.2 189.4,154.4" fill="none" stroke="#4a4a3c" stroke-width="0.7"/>
<clipPath id="c9"><polygon points="298.1,131.4 349.2,187.7 326.4,208.2 275.3,151.9"/></clipPath>
<g clip-path="url(#c9)"><g filter="url(#bl)"><polygon points="298.1,131.4 349.2,187.7 326.4,208.2 275.3,151.9" fill="#aefa8c" stroke="#aefa8c" stroke-width="3"/>
<path fill="#0cf8f0" d="M298.1 129.0C292.8 126.7 289.1 136.4 288.2 138.5C287.3 140.6 291.7 140.5 292.8 141.5C293.9 142.6 294.0 143.8 294.8 144.8C295.6 145.8 296.9 146.5 297.4 147.5C298.0 148.5 298.2 149.8 298.1 150.8C298.0 151.8 297.1 152.3 296.8 153.4C296.4 154.5 296.3 156.2 296.1 157.4C295.9 158.6 295.1 159.8 295.4 160.7C295.8 161.5 297.1 162.4 298.1 162.6C299.1 162.9 300.3 162.4 301.4 162.0C302.5 161.5 303.6 160.6 304.7 160.0C305.8 159.5 306.9 159.1 308.0 158.7C309.1 158.2 310.4 158.0 311.3 157.4C312.2 156.7 313.0 155.6 313.3 154.7C313.5 153.8 312.4 152.7 312.6 152.1C312.8 151.4 313.4 150.8 314.6 150.8C315.8 150.8 322.6 155.7 319.9 152.1C317.1 148.5 303.4 131.3 298.1 129.0Z"/>
<path fill="#3381f7" d="M299.4 136.9C299.7 136.0 300.4 134.6 301.4 134.9C302.3 135.3 304.3 137.7 305.1 138.9C305.9 140.1 306.2 141.2 306.1 142.2C306.1 143.2 305.4 144.2 304.7 144.8C304.0 145.5 302.8 146.4 302.0 146.2C301.3 145.9 300.5 144.5 300.1 143.5C299.6 142.5 299.5 141.3 299.4 140.2C299.3 139.1 299.1 137.8 299.4 136.9Z"/>
<path fill="#3381f7" d="M299.4 154.1C299.6 153.2 300.7 152.2 301.4 152.1C302.0 152.0 302.6 153.5 303.4 153.4C304.1 153.3 305.2 152.2 306.0 151.4C306.8 150.7 307.2 149.0 308.0 148.8C308.8 148.6 310.3 149.3 310.6 150.1C310.9 150.9 310.5 152.5 310.0 153.4C309.4 154.3 308.2 154.9 307.3 155.4C306.4 155.8 305.5 155.5 304.7 156.0C303.9 156.6 303.5 158.5 302.7 158.7C301.9 158.9 300.6 158.1 300.1 157.4C299.5 156.6 299.2 154.9 299.4 154.1Z"/>
<path fill="#fffa00" d="M273.7 152.1C274.5 148.6 285.0 141.5 287.9 139.8C290.9 138.2 290.5 141.2 291.5 142.2C292.5 143.1 293.6 144.4 294.1 145.5C294.7 146.6 295.0 147.9 294.8 148.8C294.6 149.7 293.2 149.8 292.8 150.8C292.4 151.8 292.5 153.6 292.2 154.7C291.8 155.8 290.9 156.3 290.8 157.4C290.8 158.5 292.1 160.3 291.9 161.3C291.7 162.4 290.4 163.5 289.5 163.6C288.6 163.7 287.7 162.5 286.6 162.0C285.5 161.5 285.1 162.3 282.9 160.7C280.8 159.0 272.8 155.6 273.7 152.1Z"/>
<ellipse fill="#ff9200" cx="288.2" cy="150.1" rx="1.7" ry="1.7"/>
<ellipse fill="#ff9200" cx="279.0" cy="153.8" rx="1.3" ry="1.3"/>
<ellipse fill="#aefa8c" cx="284.9" cy="156.0" rx="1.1" ry="1.6"/>
<path fill="#0cf8f0" d="M292.7 171.3C293.1 170.5 294.9 169.9 296.0 169.9C297.1 169.9 298.1 171.1 299.3 171.3C300.5 171.4 301.8 171.0 303.3 170.9C304.7 170.8 306.4 170.8 307.9 170.6C309.4 170.4 311.4 170.5 312.5 169.9C313.6 169.4 313.7 168.1 314.5 167.3C315.3 166.5 316.0 165.8 317.1 165.3C318.2 164.9 319.8 164.7 321.1 164.7C322.4 164.7 323.7 164.9 325.0 165.3C326.4 165.8 327.5 166.5 329.0 167.3C330.5 168.1 333.6 169.4 334.3 169.9C334.9 170.5 333.4 169.8 333.0 170.6C332.5 171.4 331.6 173.5 331.6 174.6C331.6 175.7 333.1 176.2 333.0 177.2C332.9 178.2 331.6 179.4 331.0 180.5C330.3 181.6 329.8 182.9 329.0 183.8C328.2 184.7 327.0 184.9 326.4 185.8C325.7 186.6 325.7 188.1 325.0 189.1C324.4 190.1 323.6 191.2 322.4 191.7C321.2 192.3 319.1 192.5 317.8 192.4C316.5 192.3 315.3 191.6 314.5 191.0C313.7 190.5 313.4 189.4 312.8 189.3C312.1 189.2 311.7 190.6 310.5 190.4C309.4 190.1 308.7 190.4 305.9 187.7C303.2 185.1 296.2 177.3 294.0 174.6C291.8 171.8 292.4 172.0 292.7 171.3Z"/>
<path fill="#fffa00" d="M300.1 167.3C300.2 166.4 301.6 164.9 302.7 164.6C303.8 164.3 305.6 165.5 306.7 165.3C307.8 165.1 308.4 163.5 309.3 163.3C310.2 163.1 311.4 163.3 311.9 164.0C312.5 164.6 312.9 166.4 312.6 167.3C312.3 168.1 311.1 168.8 310.0 169.2C308.9 169.7 307.3 169.8 306.0 169.9C304.7 170.0 303.0 170.3 302.0 169.9C301.1 169.5 300.0 168.1 300.1 167.3Z"/>
<ellipse fill="#ff9200" cx="302.7" cy="167.9" rx="1.6" ry="1.6"/>
<ellipse fill="#ff9200" cx="309.6" cy="167.3" rx="1.6" ry="1.3"/>
<ellipse fill="#ff0000" cx="302.7" cy="168.2" rx="0.7" ry="0.7"/>
<path fill="#3381f7" d="M304.0 173.2C304.1 172.6 305.6 171.7 306.7 171.5C307.8 171.3 309.7 171.5 310.6 171.9C311.5 172.3 312.3 173.3 312.2 173.9C312.1 174.4 311.0 175.2 310.0 175.4C308.9 175.7 307.0 175.5 306.0 175.2C305.0 174.8 303.9 173.8 304.0 173.2Z"/>
<ellipse fill="#0000f2" cx="308.2" cy="173.6" rx="1.6" ry="0.9"/>
<ellipse fill="#3381f7" cx="321.2" cy="167.9" rx="0.9" ry="0.9"/>
<ellipse fill="#3381f7" cx="325.8" cy="169.9" rx="0.8" ry="0.8"/>
<ellipse fill="#3381f7" cx="317.2" cy="171.9" rx="0.8" ry="0.8"/>
<path fill="#3381f7" d="M304.6 173.9C305.0 172.7 306.2 172.5 307.2 172.6C308.2 172.7 309.9 173.6 310.5 174.6C311.2 175.5 311.4 177.4 311.2 178.5C311.0 179.6 309.3 180.3 309.2 181.2C309.1 182.0 309.8 183.3 310.5 183.8C311.3 184.2 312.8 184.3 313.8 183.8C314.8 183.2 315.5 181.3 316.5 180.5C317.5 179.7 318.6 179.6 319.8 179.2C321.0 178.7 322.4 178.3 323.7 177.9C325.0 177.4 326.6 176.4 327.7 176.5C328.8 176.6 330.1 177.6 330.3 178.5C330.5 179.4 329.8 180.9 329.0 181.8C328.2 182.7 326.5 182.9 325.7 183.8C324.9 184.7 324.9 186.1 324.4 187.1C323.8 188.1 323.2 189.3 322.4 189.7C321.6 190.2 320.3 190.3 319.8 189.7C319.2 189.2 319.7 187.1 319.1 186.4C318.6 185.8 317.5 185.7 316.5 185.8C315.5 185.9 314.4 187.0 313.2 187.1C312.0 187.2 310.4 187.0 309.2 186.4C308.0 185.9 306.7 184.9 305.9 183.8C305.1 182.7 304.8 181.5 304.6 179.8C304.4 178.2 304.2 175.1 304.6 173.9Z"/>
<ellipse fill="#0000f2" cx="307.9" cy="175.6" rx="1.3" ry="2.4"/>
<ellipse fill="#0000f2" cx="322.4" cy="181.8" rx="2.0" ry="0.8"/>
<ellipse fill="#aefa8c" cx="321.5" cy="173.0" rx="1.3" ry="1.3"/>
<ellipse fill="#aefa8c" cx="313.8" cy="181.2" rx="0.8" ry="0.8"/>
<ellipse fill="#3381f7" cx="321.1" cy="168.6" rx="0.7" ry="0.7"/>
<ellipse fill="#3381f7" cx="325.7" cy="168.0" rx="0.7" ry="0.7"/>
<ellipse fill="#3381f7" cx="317.1" cy="173.2" rx="0.7" ry="0.7"/>
<path fill="#fffa00" d="M340.9 178.5C338.7 177.6 338.2 181.2 337.6 182.5C336.9 183.8 336.8 185.2 336.9 186.4C337.0 187.6 338.3 188.6 338.2 189.7C338.1 190.8 337.1 192.1 336.3 193.0C335.4 193.9 333.9 194.6 333.0 195.0C332.0 195.4 330.8 195.0 330.3 195.7C329.9 196.3 329.9 198.2 330.3 199.0C330.8 199.7 329.6 202.1 333.0 200.3C336.4 198.4 349.5 191.4 350.8 187.7C352.1 184.1 343.1 179.4 340.9 178.5Z"/>
<path fill="#ff9200" d="M342.2 188.4C342.5 187.2 343.6 185.3 344.2 185.1C344.8 184.9 345.8 186.1 345.8 187.1C345.8 188.1 344.8 190.2 344.2 191.0C343.6 191.9 342.5 192.8 342.2 192.4C341.9 191.9 341.9 189.6 342.2 188.4Z"/>
<ellipse fill="#fffa00" cx="326.8" cy="194.6" rx="1.3" ry="1.3"/>
<ellipse fill="#fffa00" cx="324.4" cy="203.8" rx="1.6" ry="1.3"/></g></g>
<polygon points="298.1,131.4 349.2,187.7 326.4,208.2 275.3,151.9" fill="none" stroke="#4a4a3c" stroke-width="0.7"/>
<clipPath id="c10"><polygon points="386.4,130.6 437.8,187.3 415.0,208.8 363.6,152.1"/></clipPath>
<g clip-path="url(#c10)"><g filter="url(#bl)"><polygon points="386.4,130.6 437.8,187.3 415.0,208.8 363.6,152.1" fill="#0cf8f0" stroke="#0cf8f0" stroke-width="3"/>
<path fill="#3381f7" d="M380.5 138.5C380.4 137.8 381.1 137.0 381.8 136.3C382.4 135.6 383.3 134.5 384.4 134.3C385.5 134.1 387.3 134.3 388.4 134.9C389.4 135.6 390.8 137.2 390.8 138.0C390.8 138.8 389.3 139.6 388.4 139.8C387.4 140.0 386.1 138.9 385.1 139.0C384.1 139.2 383.2 140.7 382.4 140.6C381.7 140.5 380.6 139.2 380.5 138.5Z"/>
<ellipse fill="#0000f2" cx="389.3" cy="136.7" rx="1.1" ry="1.1"/>
<path fill="#aefa8c" d="M374.9 144.2C375.3 143.4 376.8 141.8 377.8 141.5C378.9 141.3 380.4 141.9 381.1 142.6C381.8 143.2 382.4 144.7 382.1 145.5C381.7 146.2 380.2 146.9 379.2 147.1C378.1 147.2 376.6 146.9 375.9 146.4C375.1 145.9 374.6 145.0 374.9 144.2Z"/>
<ellipse fill="#fffa00" cx="378.5" cy="144.2" rx="2.4" ry="1.6"/>
<ellipse fill="#aefa8c" cx="386.1" cy="141.5" rx="1.6" ry="1.6"/>
<ellipse fill="#3381f7" cx="389.0" cy="145.5" rx="1.1" ry="1.1"/>
<path fill="#aefa8c" d="M385.7 148.8C386.3 148.4 389.2 148.3 390.4 147.5C391.6 146.6 392.1 144.3 393.0 143.8C393.9 143.3 395.4 143.8 395.8 144.6C396.1 145.3 395.8 147.2 395.2 148.1C394.7 149.1 393.5 150.0 392.6 150.4C391.7 150.7 390.6 150.5 389.7 150.4C388.8 150.3 387.7 150.1 387.1 149.8C386.4 149.6 385.2 149.2 385.7 148.8Z"/>
<ellipse fill="#fffa00" cx="393.7" cy="146.8" rx="1.6" ry="2.6"/>
<path fill="#aefa8c" d="M375.9 150.1C376.3 149.8 377.6 150.2 378.5 150.8C379.4 151.3 380.4 152.6 381.1 153.4C381.9 154.2 383.0 154.8 383.1 155.4C383.2 156.0 382.6 157.0 381.8 157.0C381.0 156.9 379.5 155.7 378.5 155.0C377.5 154.3 376.3 153.6 375.9 152.7C375.4 151.9 375.4 150.4 375.9 150.1Z"/>
<path fill="#fffa00" d="M377.2 151.4C377.4 151.3 378.4 151.9 379.2 152.5C379.9 153.1 381.3 154.6 381.5 155.1C381.7 155.6 381.1 155.7 380.5 155.4C379.9 155.1 378.4 154.1 377.8 153.4C377.3 152.7 377.0 151.6 377.2 151.4Z"/>
<ellipse fill="#aefa8c" cx="368.9" cy="150.8" rx="0.8" ry="1.6"/>
<path fill="#3381f7" d="M371.9 155.4C372.1 154.5 373.1 153.4 373.9 153.4C374.6 153.4 375.9 154.5 376.5 155.4C377.1 156.3 377.5 157.9 377.3 158.7C377.1 159.5 376.0 160.1 375.2 160.1C374.4 160.1 373.1 159.5 372.6 158.7C372.0 157.9 371.7 156.3 371.9 155.4Z"/>
<ellipse fill="#0000f2" cx="374.9" cy="156.7" rx="1.2" ry="1.6"/>
<path fill="#3381f7" d="M386.4 153.4C386.6 152.9 388.6 152.5 389.7 152.7C390.8 153.0 392.0 154.8 393.0 154.7C394.0 154.6 394.5 152.6 395.6 152.1C396.7 151.5 398.5 151.1 399.6 151.4C400.7 151.8 401.9 153.1 402.2 154.1C402.6 155.1 402.1 156.5 401.6 157.4C401.0 158.2 399.8 158.7 398.9 159.3C398.1 160.0 397.0 160.6 396.3 161.3C395.6 162.1 395.6 163.4 395.0 164.0C394.3 164.5 393.2 164.8 392.3 164.6C391.5 164.4 390.0 163.6 389.7 162.6C389.4 161.7 390.6 159.8 390.4 158.7C390.1 157.6 389.0 156.9 388.4 156.0C387.7 155.2 386.2 154.0 386.4 153.4Z"/>
<ellipse fill="#0000f2" cx="392.6" cy="159.6" rx="1.3" ry="1.3"/>
<path fill="#3381f7" d="M402.9 160.7C403.3 159.6 405.0 157.7 406.2 157.4C407.4 157.0 408.8 157.9 410.2 158.7C411.5 159.5 413.1 160.9 414.1 162.0C415.1 163.1 416.5 164.3 416.4 165.3C416.2 166.3 414.6 167.6 413.5 167.9C412.3 168.2 410.7 167.6 409.5 167.3C408.3 166.9 407.2 166.5 406.2 165.9C405.2 165.4 404.1 164.8 403.6 164.0C403.0 163.1 402.5 161.8 402.9 160.7Z"/>
<ellipse fill="#0000f2" cx="407.5" cy="159.1" rx="0.7" ry="0.7"/>
<ellipse fill="#0000f2" cx="414.8" cy="163.6" rx="0.8" ry="0.8"/>
<ellipse fill="#aefa8c" cx="378.9" cy="163.6" rx="2.9" ry="2.9"/>
<ellipse fill="#fffa00" cx="378.9" cy="163.6" rx="2.1" ry="2.1"/>
<ellipse fill="#ff9200" cx="378.9" cy="163.6" rx="1.3" ry="1.3"/>
<ellipse fill="#ff0000" cx="378.9" cy="163.6" rx="0.7" ry="0.7"/>
<ellipse fill="#aefa8c" cx="398.9" cy="160.7" rx="2.4" ry="2.4"/>
<ellipse fill="#fffa00" cx="398.9" cy="160.7" rx="1.7" ry="1.7"/>
<ellipse fill="#ff9200" cx="398.9" cy="160.7" rx="1.1" ry="1.1"/>
<ellipse fill="#ff0000" cx="398.9" cy="160.7" rx="0.5" ry="0.5"/>
<path fill="#aefa8c" d="M397.6 165.3C398.0 164.5 399.3 164.0 400.3 164.4C401.2 164.7 402.7 166.2 403.2 167.3C403.6 168.4 403.4 170.2 402.9 171.0C402.4 171.7 401.1 172.2 400.3 171.9C399.4 171.6 398.3 170.3 397.9 169.2C397.4 168.1 397.2 166.1 397.6 165.3Z"/>
<ellipse fill="#fffa00" cx="400.3" cy="168.1" rx="1.8" ry="2.1"/>
<path fill="#aefa8c" d="M388.1 164.6C388.6 164.7 389.5 166.6 390.4 167.3C391.2 167.9 392.9 168.1 393.1 168.6C393.4 169.1 392.5 170.2 391.8 170.2C391.1 170.2 389.7 169.2 389.0 168.6C388.3 168.0 387.7 167.3 387.6 166.6C387.4 165.9 387.7 164.5 388.1 164.6Z"/>
<path fill="#3381f7" d="M380.5 167.3C380.8 166.5 382.3 165.7 383.1 165.9C383.9 166.2 385.1 167.7 385.2 168.6C385.3 169.5 384.4 170.9 383.8 171.2C383.1 171.5 381.7 171.2 381.1 170.6C380.6 169.9 380.1 168.0 380.5 167.3Z"/>
<ellipse fill="#3381f7" cx="385.1" cy="160.7" rx="1.3" ry="1.6"/>
<ellipse fill="#3381f7" cx="395.6" cy="172.8" rx="1.7" ry="1.7"/>
<ellipse fill="#0000f2" cx="395.6" cy="173.1" rx="0.9" ry="0.9"/>
<ellipse fill="#3381f7" cx="406.2" cy="171.5" rx="1.7" ry="1.7"/>
<ellipse fill="#0000f2" cx="406.2" cy="171.5" rx="1.1" ry="1.1"/>
<path fill="#aefa8c" d="M411.9 167.3C412.0 166.7 413.4 166.2 414.1 166.6C414.9 167.0 416.1 169.1 416.4 169.9C416.6 170.7 416.0 171.5 415.4 171.5C414.9 171.5 413.8 170.6 413.2 169.9C412.6 169.2 411.7 167.8 411.9 167.3Z"/>
<path fill="#3381f7" d="M418.3 166.0C413.8 163.3 415.5 170.4 414.4 171.9C413.3 173.5 412.1 174.1 411.7 175.2C411.4 176.3 411.6 177.7 412.4 178.5C413.2 179.3 415.0 179.7 416.3 179.8C417.7 179.9 419.1 178.8 420.3 179.2C421.5 179.5 423.3 180.7 423.6 181.8C423.9 182.9 423.0 184.9 422.3 185.8C421.5 186.6 420.1 187.1 419.0 187.1C417.9 187.1 416.8 186.1 415.7 185.8C414.6 185.4 413.5 184.9 412.4 185.1C411.3 185.3 409.7 186.2 409.1 187.1C408.4 188.0 408.0 189.5 408.4 190.4C408.9 191.3 410.5 192.3 411.7 192.4C412.9 192.5 414.7 190.8 415.7 191.0C416.7 191.3 417.1 192.6 417.7 193.7C418.2 194.8 418.4 196.3 419.0 197.6C419.5 199.0 419.9 200.8 421.0 201.6C422.1 202.4 422.2 204.6 425.6 202.3C429.0 199.9 442.6 193.8 441.4 187.7C440.2 181.7 422.8 168.6 418.3 166.0Z"/>
<path fill="#0cf8f0" d="M424.3 180.5C424.7 179.6 426.3 179.0 427.6 179.2C428.8 179.4 430.4 180.8 431.5 181.8C432.6 182.8 434.0 184.1 434.2 185.1C434.3 186.1 433.2 187.4 432.2 187.7C431.2 188.1 429.4 187.6 428.2 187.1C427.0 186.5 425.6 185.5 424.9 184.4C424.3 183.3 423.8 181.4 424.3 180.5Z"/>
<path fill="#3381f7" d="M384.7 171.3C385.5 170.5 388.1 172.2 389.3 173.2C390.5 174.2 391.2 176.0 391.9 177.2C392.7 178.4 393.0 179.6 393.9 180.5C394.8 181.4 396.3 181.6 397.2 182.5C398.1 183.3 398.6 184.6 399.2 185.8C399.7 187.0 400.7 188.7 400.5 189.7C400.3 190.7 400.5 193.7 397.9 191.7C395.2 189.7 386.9 181.3 384.7 177.9C382.5 174.4 383.9 172.0 384.7 171.3Z"/>
<ellipse fill="#0000f2" cx="396.6" cy="173.9" rx="1.6" ry="2.4"/>
<ellipse fill="#0000f2" cx="405.8" cy="171.3" rx="1.3" ry="1.3"/>
<ellipse fill="#0000f2" cx="393.3" cy="182.5" rx="1.6" ry="1.6"/>
<ellipse fill="#0000f2" cx="398.5" cy="187.1" rx="1.3" ry="1.3"/>
<ellipse fill="#0000f2" cx="413.0" cy="187.1" rx="2.0" ry="1.1"/>
<ellipse fill="#0000f2" cx="422.9" cy="191.0" rx="2.6" ry="1.6"/>
<ellipse fill="#0000f2" cx="421.0" cy="199.6" rx="1.1" ry="1.1"/>
<ellipse fill="#aefa8c" cx="399.9" cy="167.7" rx="4.1" ry="3.6"/>
<ellipse fill="#aefa8c" cx="390.6" cy="168.0" rx="2.9" ry="2.6"/>
<ellipse fill="#fffa00" cx="399.9" cy="167.7" rx="2.9" ry="2.4"/>
<ellipse fill="#fffa00" cx="390.6" cy="168.0" rx="2.0" ry="1.7"/>
<ellipse fill="#aefa8c" cx="402.5" cy="181.2" rx="1.7" ry="1.7"/>
<ellipse fill="#fffa00" cx="402.5" cy="181.2" rx="1.2" ry="1.2"/>
<ellipse fill="#aefa8c" cx="409.7" cy="182.5" rx="1.7" ry="2.9"/>
<ellipse fill="#fffa00" cx="409.7" cy="181.8" rx="0.9" ry="1.3"/>
<ellipse fill="#aefa8c" cx="412.4" cy="195.7" rx="1.8" ry="1.8"/>
<ellipse fill="#fffa00" cx="412.4" cy="195.7" rx="1.2" ry="1.2"/>
<ellipse fill="#aefa8c" cx="413.7" cy="169.3" rx="0.7" ry="1.6"/>
<ellipse fill="#3381f7" cx="417.7" cy="202.5" rx="1.2" ry="1.2"/>
<ellipse fill="#aefa8c" cx="403.2" cy="175.2" rx="1.1" ry="1.8"/></g></g>
<polygon points="386.4,130.6 437.8,187.3 415.0,208.8 363.6,152.1" fill="none" stroke="#4a4a3c" stroke-width="0.7"/>
<clipPath id="c11"><polygon points="478.4,131.0 530.4,187.7 508.0,208.2 455.5,152.5"/></clipPath>
<g clip-path="url(#c11)"><g filter="url(#bl)"><polygon points="478.4,131.0 530.4,187.7 508.0,208.2 455.5,152.5" fill="#0cf8f0" stroke="#0cf8f0" stroke-width="3"/>
<path fill="#3381f7" d="M478.4 129.7C479.3 129.7 482.1 133.8 482.3 134.9C482.5 136.1 480.6 136.5 479.7 136.5C478.8 136.5 477.0 136.1 476.8 134.9C476.6 133.8 477.4 129.7 478.4 129.7Z"/>
<ellipse fill="#3381f7" cx="485.0" cy="140.9" rx="2.0" ry="1.6"/>
<path fill="#aefa8c" d="M455.9 151.4C456.9 149.6 462.2 145.4 464.5 143.8C466.8 142.1 468.1 141.8 469.8 141.5C471.4 141.3 473.3 141.6 474.4 142.2C475.5 142.7 475.3 144.4 476.4 144.8C477.5 145.3 479.8 144.4 481.0 144.8C482.2 145.3 482.8 146.6 483.6 147.5C484.5 148.3 485.3 149.2 486.3 150.1C487.3 151.0 488.6 151.9 489.6 152.7C490.6 153.6 492.2 154.6 492.2 155.4C492.2 156.2 490.7 157.3 489.6 157.4C488.5 157.5 486.9 156.2 485.6 156.0C484.3 155.9 483.0 156.7 481.7 156.7C480.3 156.7 478.8 155.9 477.7 156.0C476.6 156.2 476.1 157.4 475.1 157.4C474.1 157.4 472.9 156.2 471.8 156.0C470.7 155.9 469.6 156.9 468.5 156.7C467.4 156.5 466.3 154.9 465.2 154.7C464.1 154.5 463.0 155.4 461.9 155.4C460.8 155.4 459.6 155.4 458.6 154.7C457.6 154.1 454.9 153.3 455.9 151.4Z"/>
<path fill="#fffa00" d="M470.4 150.1C470.6 149.2 471.4 147.9 472.4 147.5C473.4 147.0 475.4 146.9 476.4 147.5C477.4 148.0 477.4 150.0 478.4 150.8C479.4 151.5 481.3 151.4 482.3 152.1C483.3 152.7 484.5 154.2 484.3 154.7C484.1 155.3 482.0 155.5 481.0 155.4C480.0 155.3 479.4 154.4 478.4 154.1C477.4 153.7 476.2 153.6 475.1 153.4C474.0 153.2 472.5 153.3 471.8 152.7C471.0 152.2 470.3 151.0 470.4 150.1Z"/>
<ellipse fill="#ff9200" cx="474.4" cy="150.1" rx="1.6" ry="1.6"/>
<ellipse fill="#ff0000" cx="474.4" cy="150.1" rx="0.8" ry="0.8"/>
<ellipse fill="#aefa8c" cx="487.6" cy="148.8" rx="4.2" ry="2.1"/>
<ellipse fill="#aefa8c" cx="495.5" cy="156.0" rx="3.7" ry="2.1"/>
<path fill="#3381f7" d="M460.6 158.3C459.8 156.9 463.9 159.4 465.2 160.0C466.5 160.6 467.5 161.3 468.5 162.0C469.5 162.6 470.5 163.2 471.1 164.0C471.7 164.7 472.1 165.8 471.9 166.6C471.7 167.4 471.7 170.0 469.8 168.6C467.9 167.2 461.3 159.7 460.6 158.3Z"/>
<ellipse fill="#0000f2" cx="469.8" cy="164.9" rx="0.7" ry="0.7"/>
<ellipse fill="#3381f7" cx="478.4" cy="159.1" rx="0.8" ry="0.8"/>
<ellipse fill="#3381f7" cx="485.0" cy="148.8" rx="0.7" ry="0.7"/>
<ellipse fill="#3381f7" cx="490.2" cy="150.1" rx="0.7" ry="0.7"/>
<ellipse fill="#3381f7" cx="495.5" cy="158.7" rx="1.3" ry="1.3"/>
<path fill="#aefa8c" d="M477.7 167.3C477.9 166.3 479.8 164.9 481.0 164.0C482.2 163.0 483.5 161.8 485.0 161.3C486.4 160.9 488.1 161.1 489.6 161.3C491.0 161.5 492.4 162.0 493.5 162.6C494.6 163.3 495.5 164.3 496.2 165.3C496.8 166.3 497.6 167.6 497.5 168.6C497.4 169.6 496.6 170.7 495.5 171.2C494.4 171.8 492.3 172.0 490.9 171.9C489.5 171.8 488.1 170.7 486.9 170.6C485.7 170.4 484.9 171.3 483.6 171.2C482.4 171.1 480.7 170.6 479.7 169.9C478.7 169.2 477.5 168.2 477.7 167.3Z"/>
<path fill="#fffa00" d="M481.7 167.9C481.8 167.1 483.9 165.4 485.0 164.6C486.1 163.9 487.4 163.2 488.3 163.3C489.1 163.4 490.3 164.5 490.2 165.3C490.1 166.0 488.6 167.3 487.6 167.9C486.6 168.6 485.3 169.2 484.3 169.2C483.3 169.2 481.6 168.7 481.7 167.9Z"/>
<path fill="#3381f7" d="M499.5 167.3C499.8 166.3 501.2 164.3 502.1 164.0C503.0 163.6 504.2 164.5 504.7 165.3C505.3 166.0 505.7 167.7 505.4 168.6C505.1 169.5 503.6 170.3 502.8 170.6C501.9 170.8 500.7 170.4 500.1 169.9C499.6 169.3 499.1 168.2 499.5 167.3Z"/>
<ellipse fill="#0000f2" cx="502.2" cy="167.5" rx="1.1" ry="0.8"/>
<ellipse fill="#3381f7" cx="476.4" cy="173.6" rx="1.3" ry="1.3"/>
<path fill="#3381f7" d="M488.2 178.5C488.4 177.6 490.0 176.6 490.9 176.5C491.7 176.4 493.2 177.1 493.5 177.9C493.8 178.6 493.5 180.5 492.8 181.2C492.2 181.8 490.3 182.2 489.5 181.8C488.8 181.4 488.0 179.4 488.2 178.5Z"/>
<path fill="#3381f7" d="M496.8 178.5C497.3 177.5 499.3 176.5 500.1 176.5C500.9 176.5 501.6 177.6 501.5 178.5C501.4 179.4 500.2 181.2 499.4 181.8C498.6 182.5 497.2 183.0 496.8 182.5C496.3 181.9 496.2 179.5 496.8 178.5Z"/>
<path fill="#aefa8c" d="M509.3 166.6C505.6 163.9 511.7 169.8 511.6 171.3C511.5 172.7 509.7 174.2 508.7 175.2C507.6 176.2 506.2 176.3 505.4 177.2C504.5 178.1 504.3 179.4 503.4 180.5C502.5 181.6 501.2 183.0 500.1 183.8C499.0 184.6 498.0 185.0 496.8 185.1C495.6 185.2 493.9 184.3 492.8 184.4C491.7 184.6 491.3 185.7 490.2 185.8C489.1 185.9 483.3 181.0 486.2 185.1C489.2 189.2 500.1 209.7 508.0 210.2C515.9 210.6 533.5 195.0 533.7 187.7C533.9 180.5 513.0 169.4 509.3 166.6Z"/>
<path fill="#fffa00" d="M513.3 169.9C509.5 168.0 511.9 174.4 511.0 175.9C510.2 177.3 509.2 177.6 508.4 178.8C507.6 179.9 507.1 181.6 506.3 182.7C505.5 183.8 504.7 184.6 503.6 185.4C502.5 186.1 501.0 186.9 499.7 187.4C498.4 187.8 497.1 188.0 495.7 188.0C494.4 188.0 493.0 187.6 491.8 187.4C490.5 187.1 485.5 182.9 488.2 186.7C490.9 190.5 500.4 210.0 508.0 210.2C515.6 210.4 532.8 194.5 533.7 187.7C534.6 181.0 517.1 171.9 513.3 169.9Z"/>
<path fill="#aefa8c" d="M496.8 190.4C497.4 189.6 499.3 189.2 500.7 189.1C502.2 189.0 504.0 189.2 505.4 189.7C506.7 190.3 508.2 191.3 508.7 192.4C509.1 193.5 508.6 195.2 508.0 196.3C507.5 197.4 506.4 198.4 505.4 199.0C504.4 199.5 503.2 199.9 502.1 199.6C501.0 199.3 499.6 198.0 498.8 197.0C497.9 196.0 497.1 194.8 496.8 193.7C496.5 192.6 496.1 191.2 496.8 190.4Z"/>
<ellipse fill="#0cf8f0" cx="506.7" cy="193.7" rx="0.7" ry="0.7"/>
<ellipse fill="#0cf8f0" cx="505.0" cy="196.3" rx="0.7" ry="0.7"/>
<path fill="#ff9200" d="M521.2 181.2C521.7 180.1 521.6 178.1 523.4 179.2C525.3 180.3 532.5 185.0 532.4 187.7C532.4 190.5 525.0 195.1 523.2 195.7C521.3 196.2 521.7 192.7 521.2 191.0C520.7 189.4 520.3 187.4 520.3 185.8C520.3 184.1 520.7 182.2 521.2 181.2Z"/>
<ellipse fill="#ff0000" cx="523.7" cy="182.5" rx="1.6" ry="1.6"/>
<ellipse fill="#ff9200" cx="514.6" cy="191.4" rx="1.8" ry="1.7"/>
<ellipse fill="#ff9200" cx="513.3" cy="181.2" rx="0.7" ry="0.7"/>
<ellipse fill="#ff9200" cx="505.4" cy="204.9" rx="0.5" ry="0.5"/>
<ellipse fill="#ff9200" cx="494.8" cy="195.0" rx="0.5" ry="0.5"/></g></g>
<polygon points="478.4,131.0 530.4,187.7 508.0,208.2 455.5,152.5" fill="none" stroke="#4a4a3c" stroke-width="0.7"/>
<rect x="28.6" y="237.7" width="9.5" height="3.8" fill="#0000f2" stroke="#8c8c8c" stroke-width="0.35"/><rect x="28.6" y="248.1" width="9.5" height="3.8" fill="#3381f7" stroke="#8c8c8c" stroke-width="0.35"/><rect x="28.6" y="258.5" width="9.5" height="3.8" fill="#0cf8f0" stroke="#8c8c8c" stroke-width="0.35"/><rect x="28.6" y="268.9" width="9.5" height="3.8" fill="#aefa8c" stroke="#8c8c8c" stroke-width="0.35"/><rect x="28.6" y="279.3" width="9.5" height="3.8" fill="#fffa00" stroke="#8c8c8c" stroke-width="0.35"/><rect x="28.6" y="289.7" width="9.5" height="3.8" fill="#ff9200" stroke="#8c8c8c" stroke-width="0.35"/><rect x="28.6" y="300.1" width="9.5" height="3.8" fill="#ff0000" stroke="#8c8c8c" stroke-width="0.35"/>
<rect x="116.4" y="237.6" width="8.7" height="3.8" fill="#0000f2" stroke="#8c8c8c" stroke-width="0.35"/><rect x="116.4" y="248.0" width="8.7" height="3.8" fill="#3381f7" stroke="#8c8c8c" stroke-width="0.35"/><rect x="116.4" y="258.4" width="8.7" height="3.8" fill="#0cf8f0" stroke="#8c8c8c" stroke-width="0.35"/><rect x="116.4" y="268.9" width="8.7" height="3.8" fill="#aefa8c" stroke="#8c8c8c" stroke-width="0.35"/><rect x="116.4" y="279.3" width="8.7" height="3.8" fill="#fffa00" stroke="#8c8c8c" stroke-width="0.35"/><rect x="116.4" y="289.7" width="8.7" height="3.8" fill="#ff9200" stroke="#8c8c8c" stroke-width="0.35"/><rect x="116.4" y="300.1" width="8.7" height="3.8" fill="#ff0000" stroke="#8c8c8c" stroke-width="0.35"/>
<rect x="201.3" y="237.4" width="8.2" height="3.8" fill="#0000f2" stroke="#8c8c8c" stroke-width="0.35"/><rect x="201.3" y="247.9" width="8.2" height="3.8" fill="#3381f7" stroke="#8c8c8c" stroke-width="0.35"/><rect x="201.3" y="258.4" width="8.2" height="3.8" fill="#0cf8f0" stroke="#8c8c8c" stroke-width="0.35"/><rect x="201.3" y="268.9" width="8.2" height="3.8" fill="#aefa8c" stroke="#8c8c8c" stroke-width="0.35"/><rect x="201.3" y="279.4" width="8.2" height="3.8" fill="#fffa00" stroke="#8c8c8c" stroke-width="0.35"/><rect x="201.3" y="289.9" width="8.2" height="3.8" fill="#ff9200" stroke="#8c8c8c" stroke-width="0.35"/><rect x="201.3" y="300.4" width="8.2" height="3.8" fill="#ff0000" stroke="#8c8c8c" stroke-width="0.35"/>
<rect x="289.4" y="236.8" width="8.1" height="3.8" fill="#0000f2" stroke="#8c8c8c" stroke-width="0.35"/><rect x="289.4" y="247.4" width="8.1" height="3.8" fill="#3381f7" stroke="#8c8c8c" stroke-width="0.35"/><rect x="289.4" y="258.1" width="8.1" height="3.8" fill="#0cf8f0" stroke="#8c8c8c" stroke-width="0.35"/><rect x="289.4" y="268.7" width="8.1" height="3.8" fill="#aefa8c" stroke="#8c8c8c" stroke-width="0.35"/><rect x="289.4" y="279.3" width="8.1" height="3.8" fill="#fffa00" stroke="#8c8c8c" stroke-width="0.35"/><rect x="289.4" y="290.0" width="8.1" height="3.8" fill="#ff9200" stroke="#8c8c8c" stroke-width="0.35"/><rect x="289.4" y="300.6" width="8.1" height="3.8" fill="#ff0000" stroke="#8c8c8c" stroke-width="0.35"/>
<rect x="377.2" y="236.7" width="8.8" height="3.8" fill="#0000f2" stroke="#8c8c8c" stroke-width="0.35"/><rect x="377.2" y="247.2" width="8.8" height="3.8" fill="#3381f7" stroke="#8c8c8c" stroke-width="0.35"/><rect x="377.2" y="257.7" width="8.8" height="3.8" fill="#0cf8f0" stroke="#8c8c8c" stroke-width="0.35"/><rect x="377.2" y="268.1" width="8.8" height="3.8" fill="#aefa8c" stroke="#8c8c8c" stroke-width="0.35"/><rect x="377.2" y="278.6" width="8.8" height="3.8" fill="#fffa00" stroke="#8c8c8c" stroke-width="0.35"/><rect x="377.2" y="289.1" width="8.8" height="3.8" fill="#ff9200" stroke="#8c8c8c" stroke-width="0.35"/><rect x="377.2" y="299.6" width="8.8" height="3.8" fill="#ff0000" stroke="#8c8c8c" stroke-width="0.35"/>
<rect x="466.9" y="236.8" width="8.0" height="3.8" fill="#0000f2" stroke="#8c8c8c" stroke-width="0.35"/><rect x="466.9" y="247.1" width="8.0" height="3.8" fill="#3381f7" stroke="#8c8c8c" stroke-width="0.35"/><rect x="466.9" y="257.4" width="8.0" height="3.8" fill="#0cf8f0" stroke="#8c8c8c" stroke-width="0.35"/><rect x="466.9" y="267.8" width="8.0" height="3.8" fill="#aefa8c" stroke="#8c8c8c" stroke-width="0.35"/><rect x="466.9" y="278.1" width="8.0" height="3.8" fill="#fffa00" stroke="#8c8c8c" stroke-width="0.35"/><rect x="466.9" y="288.4" width="8.0" height="3.8" fill="#ff9200" stroke="#8c8c8c" stroke-width="0.35"/><rect x="466.9" y="298.7" width="8.0" height="3.8" fill="#ff0000" stroke="#8c8c8c" stroke-width="0.35"/>
<text transform="translate(14.60 21.50) scale(1.1003 1)" font-size="6.9" fill="#111" stroke="#111" stroke-width="0.18"><tspan font-style="italic">a)</tspan> P<tspan font-size="4.7" dy="1.0">M3</tspan><tspan dy="-1.0" font-size="6.9">​</tspan> (mg kg<tspan font-size="4.7" dy="-2.3">-1</tspan><tspan dy="2.3" font-size="6.9">​</tspan>; 0-5 cm)</text>
<text transform="translate(102.20 21.50) scale(1.1021 1)" font-size="6.9" fill="#111" stroke="#111" stroke-width="0.18"><tspan font-style="italic">b)</tspan> (P/Al)<tspan font-size="4.7" dy="1.0">M3</tspan><tspan dy="-1.0" font-size="6.9">​</tspan> (%; 0-5 cm)</text>
<text transform="translate(187.30 21.50) scale(1.1015 1)" font-size="6.9" fill="#111" stroke="#111" stroke-width="0.18"><tspan font-style="italic">c)</tspan> Al<tspan font-size="4.7" dy="1.0">M3</tspan><tspan dy="-1.0" font-size="6.9">​</tspan> (mg kg<tspan font-size="4.7" dy="-2.3">-1</tspan><tspan dy="2.3" font-size="6.9">​</tspan>; 0-5 cm)</text>
<text transform="translate(279.20 21.50) scale(1.1188 1)" font-size="6.9" fill="#111" stroke="#111" stroke-width="0.18"><tspan font-style="italic">d)</tspan> TC (g kg<tspan font-size="4.7" dy="-2.3">-1</tspan><tspan dy="2.3" font-size="6.9">​</tspan>; 0-5 cm)</text>
<text transform="translate(363.80 21.50) scale(1.1082 1)" font-size="6.9" fill="#111" stroke="#111" stroke-width="0.18"><tspan font-style="italic">e)</tspan> Fe<tspan font-size="4.7" dy="1.0">M3</tspan><tspan dy="-1.0" font-size="6.9">​</tspan> (mg kg<tspan font-size="4.7" dy="-2.3">-1</tspan><tspan dy="2.3" font-size="6.9">​</tspan>; 0-5 cm)</text>
<text transform="translate(453.70 21.50) scale(1.1239 1)" font-size="6.9" fill="#111" stroke="#111" stroke-width="0.18"><tspan font-style="italic">f)</tspan> Ca<tspan font-size="4.7" dy="1.0">M3</tspan><tspan dy="-1.0" font-size="6.9">​</tspan> (mg kg<tspan font-size="4.7" dy="-2.3">-1</tspan><tspan dy="2.3" font-size="6.9">​</tspan>; 0-5 cm)</text>
<text transform="translate(12.40 127.30) scale(1.0991 1)" font-size="6.9" fill="#111" stroke="#111" stroke-width="0.18"><tspan font-style="italic">g)</tspan> P<tspan font-size="4.7" dy="1.0">M3</tspan><tspan dy="-1.0" font-size="6.9">​</tspan> (mg kg<tspan font-size="4.7" dy="-2.3">-1</tspan><tspan dy="2.3" font-size="6.9">​</tspan>; 5-20 cm)</text>
<text transform="translate(99.80 127.30) scale(1.1035 1)" font-size="6.9" fill="#111" stroke="#111" stroke-width="0.18"><tspan font-style="italic">h)</tspan> (P/Al)<tspan font-size="4.7" dy="1.0">M3</tspan><tspan dy="-1.0" font-size="6.9">​</tspan> (%; 5-20 cm)</text>
<text transform="translate(187.20 127.30) scale(1.0751 1)" font-size="6.9" fill="#111" stroke="#111" stroke-width="0.18"><tspan font-style="italic">i)</tspan> Al<tspan font-size="4.7" dy="1.0">M3</tspan><tspan dy="-1.0" font-size="6.9">​</tspan> (mg kg<tspan font-size="4.7" dy="-2.3">-1</tspan><tspan dy="2.3" font-size="6.9">​</tspan>; 5-20 cm)</text>
<text transform="translate(277.60 127.30) scale(1.1198 1)" font-size="6.9" fill="#111" stroke="#111" stroke-width="0.18"><tspan font-style="italic">j)</tspan> TC (g kg<tspan font-size="4.7" dy="-2.3">-1</tspan><tspan dy="2.3" font-size="6.9">​</tspan>; 5-20 cm)</text>
<text transform="translate(360.80 127.30) scale(1.1053 1)" font-size="6.9" fill="#111" stroke="#111" stroke-width="0.18"><tspan font-style="italic">k)</tspan> Fe<tspan font-size="4.7" dy="1.0">M3</tspan><tspan dy="-1.0" font-size="6.9">​</tspan> (mg kg<tspan font-size="4.7" dy="-2.3">-1</tspan><tspan dy="2.3" font-size="6.9">​</tspan>; 5-20 cm)</text>
<text transform="translate(452.70 127.30) scale(1.0975 1)" font-size="6.9" fill="#111" stroke="#111" stroke-width="0.18"><tspan font-style="italic">l)</tspan> Ca<tspan font-size="4.7" dy="1.0">M3</tspan><tspan dy="-1.0" font-size="6.9">​</tspan> (mg kg<tspan font-size="4.7" dy="-2.3">-1</tspan><tspan dy="2.3" font-size="6.9">​</tspan>; 5-20 cm)</text>
<text transform="translate(40.10 242.05) scale(1.3541 1)" class="s" font-size="6.3" font-weight="bold" stroke="#000" stroke-width="0.3" fill="#000">12</text>
<text transform="translate(52.60 242.05) scale(1.5360 1)" class="s" font-size="6.3" font-weight="bold" stroke="#000" stroke-width="0.3" fill="#000">–</text>
<text transform="translate(61.10 242.05) scale(1.3684 1)" class="s" font-size="6.3" font-weight="bold" stroke="#000" stroke-width="0.3" fill="#000">18</text>
<text transform="translate(40.10 252.46) scale(1.3541 1)" class="s" font-size="6.3" font-weight="bold" stroke="#000" stroke-width="0.3" fill="#000">18</text>
<text transform="translate(52.60 252.46) scale(1.5360 1)" class="s" font-size="6.3" font-weight="bold" stroke="#000" stroke-width="0.3" fill="#000">–</text>
<text transform="translate(61.10 252.46) scale(1.3684 1)" class="s" font-size="6.3" font-weight="bold" stroke="#000" stroke-width="0.3" fill="#000">24</text>
<text transform="translate(40.10 262.87) scale(1.3541 1)" class="s" font-size="6.3" font-weight="bold" stroke="#000" stroke-width="0.3" fill="#000">24</text>
<text transform="translate(52.60 262.87) scale(1.5360 1)" class="s" font-size="6.3" font-weight="bold" stroke="#000" stroke-width="0.3" fill="#000">–</text>
<text transform="translate(61.10 262.87) scale(1.3684 1)" class="s" font-size="6.3" font-weight="bold" stroke="#000" stroke-width="0.3" fill="#000">30</text>
<text transform="translate(40.10 273.28) scale(1.3541 1)" class="s" font-size="6.3" font-weight="bold" stroke="#000" stroke-width="0.3" fill="#000">30</text>
<text transform="translate(52.60 273.28) scale(1.5360 1)" class="s" font-size="6.3" font-weight="bold" stroke="#000" stroke-width="0.3" fill="#000">–</text>
<text transform="translate(61.10 273.28) scale(1.3684 1)" class="s" font-size="6.3" font-weight="bold" stroke="#000" stroke-width="0.3" fill="#000">36</text>
<text transform="translate(40.10 283.69) scale(1.3541 1)" class="s" font-size="6.3" font-weight="bold" stroke="#000" stroke-width="0.3" fill="#000">36</text>
<text transform="translate(52.60 283.69) scale(1.5360 1)" class="s" font-size="6.3" font-weight="bold" stroke="#000" stroke-width="0.3" fill="#000">–</text>
<text transform="translate(61.10 283.69) scale(1.3684 1)" class="s" font-size="6.3" font-weight="bold" stroke="#000" stroke-width="0.3" fill="#000">42</text>
<text transform="translate(40.10 294.10) scale(1.3541 1)" class="s" font-size="6.3" font-weight="bold" stroke="#000" stroke-width="0.3" fill="#000">42</text>
<text transform="translate(52.60 294.10) scale(1.5360 1)" class="s" font-size="6.3" font-weight="bold" stroke="#000" stroke-width="0.3" fill="#000">–</text>
<text transform="translate(61.10 294.10) scale(1.3684 1)" class="s" font-size="6.3" font-weight="bold" stroke="#000" stroke-width="0.3" fill="#000">48</text>
<text transform="translate(40.10 304.51) scale(1.3541 1)" class="s" font-size="6.3" font-weight="bold" stroke="#000" stroke-width="0.3" fill="#000">48</text>
<text transform="translate(52.60 304.51) scale(1.5360 1)" class="s" font-size="6.3" font-weight="bold" stroke="#000" stroke-width="0.3" fill="#000">–</text>
<text transform="translate(61.10 304.51) scale(1.3684 1)" class="s" font-size="6.3" font-weight="bold" stroke="#000" stroke-width="0.3" fill="#000">54</text>
<text transform="translate(127.00 242.00) scale(1.2777 1)" class="s" font-size="6.3" font-weight="bold" stroke="#000" stroke-width="0.3" fill="#000">1.0</text>
<text transform="translate(140.40 242.00) scale(1.4791 1)" class="s" font-size="6.3" font-weight="bold" stroke="#000" stroke-width="0.3" fill="#000">–</text>
<text transform="translate(150.70 242.00) scale(1.2777 1)" class="s" font-size="6.3" font-weight="bold" stroke="#000" stroke-width="0.3" fill="#000">1.5</text>
<text transform="translate(127.00 252.42) scale(1.2777 1)" class="s" font-size="6.3" font-weight="bold" stroke="#000" stroke-width="0.3" fill="#000">1.5</text>
<text transform="translate(140.40 252.42) scale(1.4791 1)" class="s" font-size="6.3" font-weight="bold" stroke="#000" stroke-width="0.3" fill="#000">–</text>
<text transform="translate(150.70 252.42) scale(1.2777 1)" class="s" font-size="6.3" font-weight="bold" stroke="#000" stroke-width="0.3" fill="#000">2.0</text>
<text transform="translate(127.00 262.84) scale(1.2777 1)" class="s" font-size="6.3" font-weight="bold" stroke="#000" stroke-width="0.3" fill="#000">2.0</text>
<text transform="translate(140.40 262.84) scale(1.4791 1)" class="s" font-size="6.3" font-weight="bold" stroke="#000" stroke-width="0.3" fill="#000">–</text>
<text transform="translate(150.70 262.84) scale(1.2777 1)" class="s" font-size="6.3" font-weight="bold" stroke="#000" stroke-width="0.3" fill="#000">2.5</text>
<text transform="translate(127.00 273.26) scale(1.2777 1)" class="s" font-size="6.3" font-weight="bold" stroke="#000" stroke-width="0.3" fill="#000">2.5</text>
<text transform="translate(140.40 273.26) scale(1.4791 1)" class="s" font-size="6.3" font-weight="bold" stroke="#000" stroke-width="0.3" fill="#000">–</text>
<text transform="translate(150.70 273.26) scale(1.2777 1)" class="s" font-size="6.3" font-weight="bold" stroke="#000" stroke-width="0.3" fill="#000">3.0</text>
<text transform="translate(127.00 283.68) scale(1.2777 1)" class="s" font-size="6.3" font-weight="bold" stroke="#000" stroke-width="0.3" fill="#000">3.0</text>
<text transform="translate(140.40 283.68) scale(1.4791 1)" class="s" font-size="6.3" font-weight="bold" stroke="#000" stroke-width="0.3" fill="#000">–</text>
<text transform="translate(150.70 283.68) scale(1.2777 1)" class="s" font-size="6.3" font-weight="bold" stroke="#000" stroke-width="0.3" fill="#000">3.5</text>
<text transform="translate(127.00 294.10) scale(1.2777 1)" class="s" font-size="6.3" font-weight="bold" stroke="#000" stroke-width="0.3" fill="#000">3.5</text>
<text transform="translate(140.40 294.10) scale(1.4791 1)" class="s" font-size="6.3" font-weight="bold" stroke="#000" stroke-width="0.3" fill="#000">–</text>
<text transform="translate(150.70 294.10) scale(1.2777 1)" class="s" font-size="6.3" font-weight="bold" stroke="#000" stroke-width="0.3" fill="#000">4.0</text>
<text transform="translate(127.00 304.52) scale(1.2777 1)" class="s" font-size="6.3" font-weight="bold" stroke="#000" stroke-width="0.3" fill="#000">4.0</text>
<text transform="translate(140.40 304.52) scale(1.4791 1)" class="s" font-size="6.3" font-weight="bold" stroke="#000" stroke-width="0.3" fill="#000">–</text>
<text transform="translate(150.70 304.52) scale(1.2777 1)" class="s" font-size="6.3" font-weight="bold" stroke="#000" stroke-width="0.3" fill="#000">4.5</text>
<text transform="translate(215.31 241.80) scale(1.1782 1)" class="s" font-size="6.3" font-weight="bold" stroke="#000" stroke-width="0.3" fill="#000">913</text>
<text transform="translate(230.20 241.80) scale(1.3938 1)" class="s" font-size="6.3" font-weight="bold" stroke="#000" stroke-width="0.3" fill="#000">–</text>
<text transform="translate(237.50 241.80) scale(1.2039 1)" class="s" font-size="6.3" font-weight="bold" stroke="#000" stroke-width="0.3" fill="#000">955</text>
<text transform="translate(215.31 252.30) scale(1.1782 1)" class="s" font-size="6.3" font-weight="bold" stroke="#000" stroke-width="0.3" fill="#000">955</text>
<text transform="translate(230.20 252.30) scale(1.3938 1)" class="s" font-size="6.3" font-weight="bold" stroke="#000" stroke-width="0.3" fill="#000">–</text>
<text transform="translate(237.50 252.30) scale(1.2039 1)" class="s" font-size="6.3" font-weight="bold" stroke="#000" stroke-width="0.3" fill="#000">997</text>
<text transform="translate(215.31 262.80) scale(1.1782 1)" class="s" font-size="6.3" font-weight="bold" stroke="#000" stroke-width="0.3" fill="#000">997</text>
<text transform="translate(230.20 262.80) scale(1.3938 1)" class="s" font-size="6.3" font-weight="bold" stroke="#000" stroke-width="0.3" fill="#000">–</text>
<text transform="translate(237.50 262.80) scale(1.2044 1)" class="s" font-size="6.3" font-weight="bold" stroke="#000" stroke-width="0.3" fill="#000">1039</text>
<text transform="translate(211.18 273.30) scale(1.1787 1)" class="s" font-size="6.3" font-weight="bold" stroke="#000" stroke-width="0.3" fill="#000">1039</text>
<text transform="translate(230.20 273.30) scale(1.3938 1)" class="s" font-size="6.3" font-weight="bold" stroke="#000" stroke-width="0.3" fill="#000">–</text>
<text transform="translate(237.50 273.30) scale(1.2044 1)" class="s" font-size="6.3" font-weight="bold" stroke="#000" stroke-width="0.3" fill="#000">1081</text>
<text transform="translate(211.18 283.80) scale(1.1787 1)" class="s" font-size="6.3" font-weight="bold" stroke="#000" stroke-width="0.3" fill="#000">1081</text>
<text transform="translate(230.20 283.80) scale(1.3938 1)" class="s" font-size="6.3" font-weight="bold" stroke="#000" stroke-width="0.3" fill="#000">–</text>
<text transform="translate(237.50 283.80) scale(1.2347 1)" class="s" font-size="6.3" font-weight="bold" stroke="#000" stroke-width="0.3" fill="#000">1123</text>
<text transform="translate(211.18 294.30) scale(1.2083 1)" class="s" font-size="6.3" font-weight="bold" stroke="#000" stroke-width="0.3" fill="#000">1123</text>
<text transform="translate(230.20 294.30) scale(1.3938 1)" class="s" font-size="6.3" font-weight="bold" stroke="#000" stroke-width="0.3" fill="#000">–</text>
<text transform="translate(237.50 294.30) scale(1.2347 1)" class="s" font-size="6.3" font-weight="bold" stroke="#000" stroke-width="0.3" fill="#000">1165</text>
<text transform="translate(211.18 304.80) scale(1.2083 1)" class="s" font-size="6.3" font-weight="bold" stroke="#000" stroke-width="0.3" fill="#000">1165</text>
<text transform="translate(230.20 304.80) scale(1.3938 1)" class="s" font-size="6.3" font-weight="bold" stroke="#000" stroke-width="0.3" fill="#000">–</text>
<text transform="translate(237.50 304.80) scale(1.2044 1)" class="s" font-size="6.3" font-weight="bold" stroke="#000" stroke-width="0.3" fill="#000">1207</text>
<text transform="translate(299.20 241.20) scale(1.2229 1)" class="s" font-size="6.3" font-weight="bold" stroke="#000" stroke-width="0.3" fill="#000">13.5</text>
<text transform="translate(316.80 241.20) scale(1.3369 1)" class="s" font-size="6.3" font-weight="bold" stroke="#000" stroke-width="0.3" fill="#000">–</text>
<text transform="translate(324.00 241.20) scale(1.1740 1)" class="s" font-size="6.3" font-weight="bold" stroke="#000" stroke-width="0.3" fill="#000">14.2</text>
<text transform="translate(299.20 251.83) scale(1.2229 1)" class="s" font-size="6.3" font-weight="bold" stroke="#000" stroke-width="0.3" fill="#000">14.2</text>
<text transform="translate(316.80 251.83) scale(1.3369 1)" class="s" font-size="6.3" font-weight="bold" stroke="#000" stroke-width="0.3" fill="#000">–</text>
<text transform="translate(324.00 251.83) scale(1.1740 1)" class="s" font-size="6.3" font-weight="bold" stroke="#000" stroke-width="0.3" fill="#000">14.9</text>
<text transform="translate(299.20 262.46) scale(1.2229 1)" class="s" font-size="6.3" font-weight="bold" stroke="#000" stroke-width="0.3" fill="#000">14.9</text>
<text transform="translate(316.80 262.46) scale(1.3369 1)" class="s" font-size="6.3" font-weight="bold" stroke="#000" stroke-width="0.3" fill="#000">–</text>
<text transform="translate(324.00 262.46) scale(1.1740 1)" class="s" font-size="6.3" font-weight="bold" stroke="#000" stroke-width="0.3" fill="#000">15.6</text>
<text transform="translate(299.20 273.09) scale(1.2229 1)" class="s" font-size="6.3" font-weight="bold" stroke="#000" stroke-width="0.3" fill="#000">15.6</text>
<text transform="translate(316.80 273.09) scale(1.3369 1)" class="s" font-size="6.3" font-weight="bold" stroke="#000" stroke-width="0.3" fill="#000">–</text>
<text transform="translate(324.00 273.09) scale(1.1740 1)" class="s" font-size="6.3" font-weight="bold" stroke="#000" stroke-width="0.3" fill="#000">16.3</text>
<text transform="translate(299.20 283.72) scale(1.2229 1)" class="s" font-size="6.3" font-weight="bold" stroke="#000" stroke-width="0.3" fill="#000">16.3</text>
<text transform="translate(316.80 283.72) scale(1.3369 1)" class="s" font-size="6.3" font-weight="bold" stroke="#000" stroke-width="0.3" fill="#000">–</text>
<text transform="translate(324.00 283.72) scale(1.1740 1)" class="s" font-size="6.3" font-weight="bold" stroke="#000" stroke-width="0.3" fill="#000">17.0</text>
<text transform="translate(299.20 294.35) scale(1.2229 1)" class="s" font-size="6.3" font-weight="bold" stroke="#000" stroke-width="0.3" fill="#000">17.0</text>
<text transform="translate(316.80 294.35) scale(1.3369 1)" class="s" font-size="6.3" font-weight="bold" stroke="#000" stroke-width="0.3" fill="#000">–</text>
<text transform="translate(324.00 294.35) scale(1.1740 1)" class="s" font-size="6.3" font-weight="bold" stroke="#000" stroke-width="0.3" fill="#000">17.7</text>
<text transform="translate(299.20 304.98) scale(1.2229 1)" class="s" font-size="6.3" font-weight="bold" stroke="#000" stroke-width="0.3" fill="#000">17.7</text>
<text transform="translate(316.80 304.98) scale(1.3369 1)" class="s" font-size="6.3" font-weight="bold" stroke="#000" stroke-width="0.3" fill="#000">–</text>
<text transform="translate(324.00 304.98) scale(1.1740 1)" class="s" font-size="6.3" font-weight="bold" stroke="#000" stroke-width="0.3" fill="#000">18.4</text>
<text transform="translate(388.10 241.10) scale(1.2458 1)" class="s" font-size="6.3" font-weight="bold" stroke="#000" stroke-width="0.3" fill="#000">200</text>
<text transform="translate(403.80 241.10) scale(1.5076 1)" class="s" font-size="6.3" font-weight="bold" stroke="#000" stroke-width="0.3" fill="#000">–</text>
<text transform="translate(411.80 241.10) scale(1.2933 1)" class="s" font-size="6.3" font-weight="bold" stroke="#000" stroke-width="0.3" fill="#000">225</text>
<text transform="translate(388.10 251.58) scale(1.2458 1)" class="s" font-size="6.3" font-weight="bold" stroke="#000" stroke-width="0.3" fill="#000">225</text>
<text transform="translate(403.80 251.58) scale(1.5076 1)" class="s" font-size="6.3" font-weight="bold" stroke="#000" stroke-width="0.3" fill="#000">–</text>
<text transform="translate(411.80 251.58) scale(1.2933 1)" class="s" font-size="6.3" font-weight="bold" stroke="#000" stroke-width="0.3" fill="#000">250</text>
<text transform="translate(388.10 262.06) scale(1.2458 1)" class="s" font-size="6.3" font-weight="bold" stroke="#000" stroke-width="0.3" fill="#000">250</text>
<text transform="translate(403.80 262.06) scale(1.5076 1)" class="s" font-size="6.3" font-weight="bold" stroke="#000" stroke-width="0.3" fill="#000">–</text>
<text transform="translate(411.80 262.06) scale(1.2933 1)" class="s" font-size="6.3" font-weight="bold" stroke="#000" stroke-width="0.3" fill="#000">275</text>
<text transform="translate(388.10 272.54) scale(1.2458 1)" class="s" font-size="6.3" font-weight="bold" stroke="#000" stroke-width="0.3" fill="#000">275</text>
<text transform="translate(403.80 272.54) scale(1.5076 1)" class="s" font-size="6.3" font-weight="bold" stroke="#000" stroke-width="0.3" fill="#000">–</text>
<text transform="translate(411.80 272.54) scale(1.2933 1)" class="s" font-size="6.3" font-weight="bold" stroke="#000" stroke-width="0.3" fill="#000">300</text>
<text transform="translate(388.10 283.02) scale(1.2458 1)" class="s" font-size="6.3" font-weight="bold" stroke="#000" stroke-width="0.3" fill="#000">300</text>
<text transform="translate(403.80 283.02) scale(1.5076 1)" class="s" font-size="6.3" font-weight="bold" stroke="#000" stroke-width="0.3" fill="#000">–</text>
<text transform="translate(411.80 283.02) scale(1.2933 1)" class="s" font-size="6.3" font-weight="bold" stroke="#000" stroke-width="0.3" fill="#000">325</text>
<text transform="translate(388.10 293.50) scale(1.2458 1)" class="s" font-size="6.3" font-weight="bold" stroke="#000" stroke-width="0.3" fill="#000">325</text>
<text transform="translate(403.80 293.50) scale(1.5076 1)" class="s" font-size="6.3" font-weight="bold" stroke="#000" stroke-width="0.3" fill="#000">–</text>
<text transform="translate(411.80 293.50) scale(1.2933 1)" class="s" font-size="6.3" font-weight="bold" stroke="#000" stroke-width="0.3" fill="#000">350</text>
<text transform="translate(388.10 303.98) scale(1.2458 1)" class="s" font-size="6.3" font-weight="bold" stroke="#000" stroke-width="0.3" fill="#000">350</text>
<text transform="translate(403.80 303.98) scale(1.5076 1)" class="s" font-size="6.3" font-weight="bold" stroke="#000" stroke-width="0.3" fill="#000">–</text>
<text transform="translate(411.80 303.98) scale(1.2933 1)" class="s" font-size="6.3" font-weight="bold" stroke="#000" stroke-width="0.3" fill="#000">375</text>
<text transform="translate(476.20 241.20) scale(1.1059 1)" class="s" font-size="6.3" font-weight="bold" stroke="#000" stroke-width="0.3" fill="#000">2500</text>
<text transform="translate(494.70 241.20) scale(1.3938 1)" class="s" font-size="6.3" font-weight="bold" stroke="#000" stroke-width="0.3" fill="#000">–</text>
<text transform="translate(502.10 241.20) scale(1.1844 1)" class="s" font-size="6.3" font-weight="bold" stroke="#000" stroke-width="0.3" fill="#000">2600</text>
<text transform="translate(476.20 251.52) scale(1.1059 1)" class="s" font-size="6.3" font-weight="bold" stroke="#000" stroke-width="0.3" fill="#000">2600</text>
<text transform="translate(494.70 251.52) scale(1.3938 1)" class="s" font-size="6.3" font-weight="bold" stroke="#000" stroke-width="0.3" fill="#000">–</text>
<text transform="translate(502.10 251.52) scale(1.1844 1)" class="s" font-size="6.3" font-weight="bold" stroke="#000" stroke-width="0.3" fill="#000">2700</text>
<text transform="translate(476.20 261.84) scale(1.1059 1)" class="s" font-size="6.3" font-weight="bold" stroke="#000" stroke-width="0.3" fill="#000">2700</text>
<text transform="translate(494.70 261.84) scale(1.3938 1)" class="s" font-size="6.3" font-weight="bold" stroke="#000" stroke-width="0.3" fill="#000">–</text>
<text transform="translate(502.10 261.84) scale(1.1844 1)" class="s" font-size="6.3" font-weight="bold" stroke="#000" stroke-width="0.3" fill="#000">2800</text>
<text transform="translate(476.20 272.16) scale(1.1059 1)" class="s" font-size="6.3" font-weight="bold" stroke="#000" stroke-width="0.3" fill="#000">2800</text>
<text transform="translate(494.70 272.16) scale(1.3938 1)" class="s" font-size="6.3" font-weight="bold" stroke="#000" stroke-width="0.3" fill="#000">–</text>
<text transform="translate(502.10 272.16) scale(1.1844 1)" class="s" font-size="6.3" font-weight="bold" stroke="#000" stroke-width="0.3" fill="#000">2900</text>
<text transform="translate(476.20 282.48) scale(1.1059 1)" class="s" font-size="6.3" font-weight="bold" stroke="#000" stroke-width="0.3" fill="#000">2900</text>
<text transform="translate(494.70 282.48) scale(1.3938 1)" class="s" font-size="6.3" font-weight="bold" stroke="#000" stroke-width="0.3" fill="#000">–</text>
<text transform="translate(502.10 282.48) scale(1.1844 1)" class="s" font-size="6.3" font-weight="bold" stroke="#000" stroke-width="0.3" fill="#000">3000</text>
<text transform="translate(476.20 292.80) scale(1.1059 1)" class="s" font-size="6.3" font-weight="bold" stroke="#000" stroke-width="0.3" fill="#000">3000</text>
<text transform="translate(494.70 292.80) scale(1.3938 1)" class="s" font-size="6.3" font-weight="bold" stroke="#000" stroke-width="0.3" fill="#000">–</text>
<text transform="translate(502.10 292.80) scale(1.1844 1)" class="s" font-size="6.3" font-weight="bold" stroke="#000" stroke-width="0.3" fill="#000">3100</text>
<text transform="translate(476.20 303.12) scale(1.1059 1)" class="s" font-size="6.3" font-weight="bold" stroke="#000" stroke-width="0.3" fill="#000">3100</text>
<text transform="translate(494.70 303.12) scale(1.3938 1)" class="s" font-size="6.3" font-weight="bold" stroke="#000" stroke-width="0.3" fill="#000">–</text>
<text transform="translate(502.10 303.12) scale(1.1844 1)" class="s" font-size="6.3" font-weight="bold" stroke="#000" stroke-width="0.3" fill="#000">3200</text>
<text x="528.6" y="295.2" font-size="5.2" text-anchor="middle" fill="#333">N</text>
<polygon points="528.5,299.3 534.3,315.6 528.5,312.3 522.7,315.6" fill="#000"/>
<rect x="463.1" y="322.6" width="41.4" height="4.6" fill="#fff" stroke="#000" stroke-width="0.5"/>
<rect x="463.1" y="322.6" width="10.4" height="2.3" fill="#000"/>
<rect x="473.5" y="324.9" width="10.6" height="2.3" fill="#000"/>
<rect x="484.1" y="322.6" width="20.4" height="2.3" fill="#000"/>
<text class="s" x="463.1" y="319.6" font-size="4.9" text-anchor="middle" fill="#333">0</text>
<text class="s" x="473.5" y="319.6" font-size="4.9" text-anchor="middle" fill="#333">25</text>
<text class="s" x="484.1" y="319.6" font-size="4.9" text-anchor="middle" fill="#333">50</text>
<text class="s" x="504.8" y="319.6" font-size="4.9" text-anchor="middle" fill="#333">100</text>
<text class="s" x="506.1" y="327.3" font-size="6" textLength="18.2" lengthAdjust="spacingAndGlyphs" fill="#333">Meters</text>
</svg>
</body></html>
